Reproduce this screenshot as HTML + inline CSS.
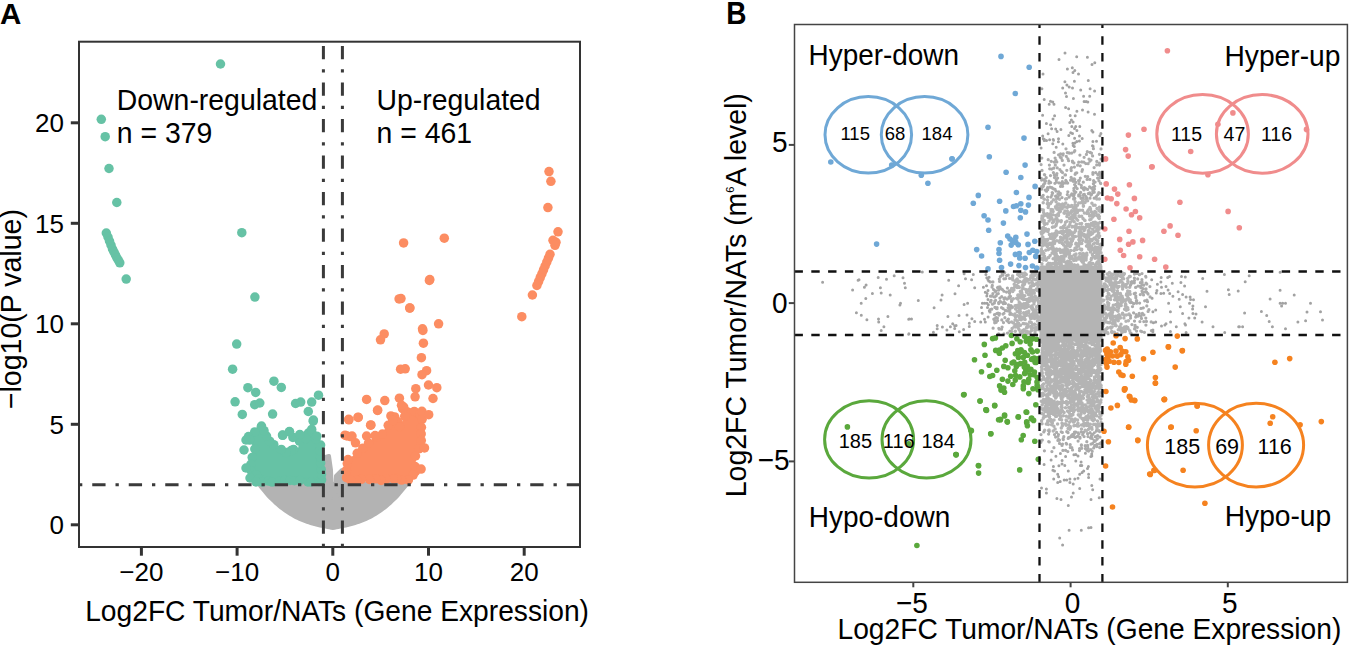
<!DOCTYPE html><html><head><meta charset="utf-8"><style>html,body{margin:0;padding:0;background:#fff;}svg{display:block;}</style></head><body>
<svg width="1349" height="646" viewBox="0 0 1349 646" font-family='"Liberation Sans", sans-serif'>
<rect width="1349" height="646" fill="#fff"/>
<text transform="translate(0.1,24.1) scale(1,1.03)" font-size="29.5" font-weight="bold">A</text>
<polygon points="256.0,482.0 257.4,485.5 259.3,488.0 261.2,490.3 263.1,492.6 264.9,494.8 266.8,496.9 268.7,498.9 270.6,500.8 272.5,502.6 274.4,504.4 276.3,506.1 278.2,507.7 280.0,509.2 281.9,510.6 283.8,512.0 285.7,513.3 287.6,514.5 289.5,515.7 291.4,516.8 293.3,517.9 295.1,518.9 297.0,519.8 298.9,520.7 300.8,521.5 302.7,522.3 304.6,523.0 306.5,523.7 308.4,524.3 310.2,524.9 312.1,525.5 314.0,526.0 315.9,526.5 317.8,527.0 319.7,527.4 321.6,527.8 323.5,528.2 325.3,528.6 327.2,529.0 329.1,529.3 331.0,529.7 332.9,530.0 334.8,529.7 336.7,529.3 338.6,529.0 340.4,528.6 342.3,528.2 344.2,527.8 346.1,527.4 348.0,527.0 349.9,526.5 351.8,526.0 353.7,525.5 355.5,524.9 357.4,524.3 359.3,523.7 361.2,523.0 363.1,522.3 365.0,521.5 366.9,520.7 368.8,519.8 370.6,518.9 372.5,517.9 374.4,516.8 376.3,515.7 378.2,514.5 380.1,513.3 382.0,512.0 383.9,510.6 385.8,509.2 387.6,507.7 389.5,506.1 391.4,504.4 393.3,502.6 395.2,500.8 397.1,498.9 399.0,496.9 400.8,494.8 402.7,492.6 404.6,490.3 406.5,488.0 408.4,485.5 410.0,482.0" fill="#b3b3b3"/>
<polygon points="322,458 329,456 331,470 332,498 326,496 321,480" fill="#b3b3b3" stroke="#b3b3b3" stroke-width="4" stroke-linejoin="round"/>
<polygon points="336,476 342,470 345,474 345,490 334,498" fill="#b3b3b3" stroke="#b3b3b3" stroke-width="4" stroke-linejoin="round"/>
<g fill="#66c2a5"><polygon points="261.5,426.0 248.7,434.5 247.9,439.6 254.7,448.1 250.4,460.0 249.6,469.4 257.2,478.8 259.8,482.2 322.0,482.2 322.5,460.0 320.5,441.3 315.1,436.2 311.7,430.2 304.9,436.2 299.8,439.6 298.1,448.1 287.9,453.2 281.1,451.5 276.8,446.4 270.9,443.0 264.1,432.8"/><circle cx="261.3" cy="427.4" r="4.75"/><circle cx="254.7" cy="431.9" r="4.75"/><circle cx="248.5" cy="436.5" r="4.75"/><circle cx="249.6" cy="440.1" r="4.75"/><circle cx="254.8" cy="449.0" r="4.75"/><circle cx="252.2" cy="457.4" r="4.75"/><circle cx="250.9" cy="464.3" r="4.75"/><circle cx="251.3" cy="471.0" r="4.75"/><circle cx="256.1" cy="474.7" r="4.75"/><circle cx="258.9" cy="478.7" r="4.75"/><circle cx="262.1" cy="482.1" r="4.75"/><circle cx="268.5" cy="481.1" r="4.75"/><circle cx="272.1" cy="482.1" r="4.75"/><circle cx="279.7" cy="481.3" r="4.75"/><circle cx="284.7" cy="480.5" r="4.75"/><circle cx="290.0" cy="480.4" r="4.75"/><circle cx="294.4" cy="480.7" r="4.75"/><circle cx="299.9" cy="480.6" r="4.75"/><circle cx="307.9" cy="482.0" r="4.75"/><circle cx="310.9" cy="481.9" r="4.75"/><circle cx="319.0" cy="481.6" r="4.75"/><circle cx="321.6" cy="479.8" r="4.75"/><circle cx="321.5" cy="474.6" r="4.75"/><circle cx="321.2" cy="469.4" r="4.75"/><circle cx="320.7" cy="463.0" r="4.75"/><circle cx="320.4" cy="457.1" r="4.75"/><circle cx="319.5" cy="450.5" r="4.75"/><circle cx="320.6" cy="445.1" r="4.75"/><circle cx="315.9" cy="439.2" r="4.75"/><circle cx="312.2" cy="433.5" r="4.75"/><circle cx="308.4" cy="433.0" r="4.75"/><circle cx="301.3" cy="438.4" r="4.75"/><circle cx="299.4" cy="441.1" r="4.75"/><circle cx="293.5" cy="449.4" r="4.75"/><circle cx="291.1" cy="450.6" r="4.75"/><circle cx="286.0" cy="452.6" r="4.75"/><circle cx="281.3" cy="449.4" r="4.75"/><circle cx="273.8" cy="444.7" r="4.75"/><circle cx="269.7" cy="441.2" r="4.75"/><circle cx="266.5" cy="436.1" r="4.75"/><circle cx="264.0" cy="430.7" r="4.75"/></g>
<circle cx="220.5" cy="64.0" r="4.75" fill="#66c2a5"/>
<circle cx="101.3" cy="119.3" r="4.75" fill="#66c2a5"/>
<circle cx="105.2" cy="136.7" r="4.75" fill="#66c2a5"/>
<circle cx="109.0" cy="168.5" r="4.75" fill="#66c2a5"/>
<circle cx="116.8" cy="202.5" r="4.75" fill="#66c2a5"/>
<circle cx="241.8" cy="232.7" r="4.75" fill="#66c2a5"/>
<circle cx="126.2" cy="279.1" r="4.75" fill="#66c2a5"/>
<circle cx="106.3" cy="233.0" r="4.75" fill="#66c2a5"/>
<circle cx="108.0" cy="237.0" r="4.75" fill="#66c2a5"/>
<circle cx="109.5" cy="241.0" r="4.75" fill="#66c2a5"/>
<circle cx="111.0" cy="245.0" r="4.75" fill="#66c2a5"/>
<circle cx="112.5" cy="249.0" r="4.75" fill="#66c2a5"/>
<circle cx="114.0" cy="252.0" r="4.75" fill="#66c2a5"/>
<circle cx="115.5" cy="255.0" r="4.75" fill="#66c2a5"/>
<circle cx="117.0" cy="258.0" r="4.75" fill="#66c2a5"/>
<circle cx="118.5" cy="260.5" r="4.75" fill="#66c2a5"/>
<circle cx="119.8" cy="262.8" r="4.75" fill="#66c2a5"/>
<circle cx="254.9" cy="297.1" r="4.75" fill="#66c2a5"/>
<circle cx="236.7" cy="344.1" r="4.75" fill="#66c2a5"/>
<circle cx="232.6" cy="369.2" r="4.75" fill="#66c2a5"/>
<circle cx="273.9" cy="381.2" r="4.75" fill="#66c2a5"/>
<circle cx="281.3" cy="387.4" r="4.75" fill="#66c2a5"/>
<circle cx="247.9" cy="387.7" r="4.75" fill="#66c2a5"/>
<circle cx="255.7" cy="392.4" r="4.75" fill="#66c2a5"/>
<circle cx="318.5" cy="395.2" r="4.75" fill="#66c2a5"/>
<circle cx="235.1" cy="401.8" r="4.75" fill="#66c2a5"/>
<circle cx="254.7" cy="404.7" r="4.75" fill="#66c2a5"/>
<circle cx="259.8" cy="403.0" r="4.75" fill="#66c2a5"/>
<circle cx="242.3" cy="414.4" r="4.75" fill="#66c2a5"/>
<circle cx="272.6" cy="414.1" r="4.75" fill="#66c2a5"/>
<circle cx="295.6" cy="403.5" r="4.75" fill="#66c2a5"/>
<circle cx="300.7" cy="402.1" r="4.75" fill="#66c2a5"/>
<circle cx="311.7" cy="402.1" r="4.75" fill="#66c2a5"/>
<circle cx="308.3" cy="411.5" r="4.75" fill="#66c2a5"/>
<circle cx="313.4" cy="420.0" r="4.75" fill="#66c2a5"/>
<circle cx="261.5" cy="426.0" r="4.75" fill="#66c2a5"/>
<circle cx="282.5" cy="435.1" r="4.75" fill="#66c2a5"/>
<circle cx="289.4" cy="431.6" r="4.75" fill="#66c2a5"/>
<circle cx="292.9" cy="437.4" r="4.75" fill="#66c2a5"/>
<circle cx="299.9" cy="435.1" r="4.75" fill="#66c2a5"/>
<circle cx="305.7" cy="438.6" r="4.75" fill="#66c2a5"/>
<circle cx="313.2" cy="421.2" r="4.75" fill="#66c2a5"/>
<circle cx="311.7" cy="429.4" r="4.75" fill="#66c2a5"/>
<circle cx="282.8" cy="435.3" r="4.75" fill="#66c2a5"/>
<circle cx="289.6" cy="432.0" r="4.75" fill="#66c2a5"/>
<circle cx="299.8" cy="434.5" r="4.75" fill="#66c2a5"/>
<circle cx="316.8" cy="436.2" r="4.75" fill="#66c2a5"/>
<circle cx="246.0" cy="440.0" r="4.75" fill="#66c2a5"/>
<circle cx="244.0" cy="450.0" r="4.75" fill="#66c2a5"/>
<circle cx="246.0" cy="468.0" r="4.75" fill="#66c2a5"/>
<circle cx="250.0" cy="478.0" r="4.75" fill="#66c2a5"/>
<circle cx="256.0" cy="482.0" r="4.75" fill="#66c2a5"/>
<g fill="#fc8d62"><polygon points="345.5,481.0 344.5,468.0 347.0,460.0 358.5,452.0 366.0,445.0 373.0,438.0 382.0,434.0 387.0,425.0 389.0,417.0 393.0,414.0 400.0,425.0 405.0,416.7 402.5,404.5 412.4,409.0 420.6,413.0 424.5,416.0 422.5,421.3 421.5,432.1 421.5,439.9 420.5,447.6 416.5,456.9 415.0,466.2 417.5,470.0 411.0,480.0"/><circle cx="346.5" cy="477.7" r="4.75"/><circle cx="346.3" cy="470.4" r="4.75"/><circle cx="347.3" cy="463.6" r="4.75"/><circle cx="348.0" cy="459.6" r="4.75"/><circle cx="357.2" cy="453.3" r="4.75"/><circle cx="362.8" cy="448.2" r="4.75"/><circle cx="368.5" cy="443.0" r="4.75"/><circle cx="377.1" cy="436.8" r="4.75"/><circle cx="382.4" cy="434.1" r="4.75"/><circle cx="388.2" cy="425.3" r="4.75"/><circle cx="390.9" cy="415.9" r="4.75"/><circle cx="394.7" cy="416.9" r="4.75"/><circle cx="397.8" cy="421.8" r="4.75"/><circle cx="399.5" cy="426.7" r="4.75"/><circle cx="404.7" cy="416.3" r="4.75"/><circle cx="402.6" cy="408.7" r="4.75"/><circle cx="403.7" cy="407.1" r="4.75"/><circle cx="414.3" cy="411.4" r="4.75"/><circle cx="419.8" cy="414.7" r="4.75"/><circle cx="422.1" cy="419.3" r="4.75"/><circle cx="421.4" cy="427.3" r="4.75"/><circle cx="421.2" cy="433.9" r="4.75"/><circle cx="421.3" cy="440.6" r="4.75"/><circle cx="418.7" cy="448.8" r="4.75"/><circle cx="415.5" cy="456.0" r="4.75"/><circle cx="415.1" cy="466.5" r="4.75"/><circle cx="415.4" cy="471.6" r="4.75"/><circle cx="413.2" cy="475.1" r="4.75"/><circle cx="408.4" cy="479.9" r="4.75"/><circle cx="401.6" cy="480.1" r="4.75"/><circle cx="396.4" cy="478.5" r="4.75"/><circle cx="393.2" cy="478.7" r="4.75"/><circle cx="386.1" cy="479.3" r="4.75"/><circle cx="381.2" cy="480.4" r="4.75"/><circle cx="375.5" cy="478.8" r="4.75"/><circle cx="369.4" cy="479.4" r="4.75"/><circle cx="361.3" cy="479.3" r="4.75"/><circle cx="356.7" cy="480.3" r="4.75"/><circle cx="350.7" cy="479.9" r="4.75"/></g>
<circle cx="549.0" cy="171.6" r="4.75" fill="#fc8d62"/>
<circle cx="550.9" cy="181.3" r="4.75" fill="#fc8d62"/>
<circle cx="547.9" cy="207.6" r="4.75" fill="#fc8d62"/>
<circle cx="558.0" cy="231.8" r="4.75" fill="#fc8d62"/>
<circle cx="553.0" cy="240.3" r="4.75" fill="#fc8d62"/>
<circle cx="556.0" cy="242.3" r="4.75" fill="#fc8d62"/>
<circle cx="555.0" cy="245.3" r="4.75" fill="#fc8d62"/>
<circle cx="550.0" cy="254.3" r="4.75" fill="#fc8d62"/>
<circle cx="548.4" cy="258.2" r="4.75" fill="#fc8d62"/>
<circle cx="546.8" cy="262.1" r="4.75" fill="#fc8d62"/>
<circle cx="545.1" cy="266.0" r="4.75" fill="#fc8d62"/>
<circle cx="543.5" cy="269.9" r="4.75" fill="#fc8d62"/>
<circle cx="541.9" cy="273.8" r="4.75" fill="#fc8d62"/>
<circle cx="540.2" cy="277.7" r="4.75" fill="#fc8d62"/>
<circle cx="538.6" cy="281.6" r="4.75" fill="#fc8d62"/>
<circle cx="536.9" cy="285.5" r="4.75" fill="#fc8d62"/>
<circle cx="532.4" cy="295.0" r="4.75" fill="#fc8d62"/>
<circle cx="521.8" cy="316.7" r="4.75" fill="#fc8d62"/>
<circle cx="444.3" cy="238.2" r="4.75" fill="#fc8d62"/>
<circle cx="403.6" cy="242.9" r="4.75" fill="#fc8d62"/>
<circle cx="429.8" cy="279.5" r="4.75" fill="#fc8d62"/>
<circle cx="401.0" cy="298.6" r="4.75" fill="#fc8d62"/>
<circle cx="409.7" cy="308.1" r="4.75" fill="#fc8d62"/>
<circle cx="438.6" cy="323.8" r="4.75" fill="#fc8d62"/>
<circle cx="422.5" cy="328.8" r="4.75" fill="#fc8d62"/>
<circle cx="429.4" cy="280.4" r="4.75" fill="#fc8d62"/>
<circle cx="399.1" cy="298.9" r="4.75" fill="#fc8d62"/>
<circle cx="409.9" cy="307.9" r="4.75" fill="#fc8d62"/>
<circle cx="422.9" cy="330.5" r="4.75" fill="#fc8d62"/>
<circle cx="384.2" cy="333.9" r="4.75" fill="#fc8d62"/>
<circle cx="380.5" cy="339.8" r="4.75" fill="#fc8d62"/>
<circle cx="423.4" cy="343.2" r="4.75" fill="#fc8d62"/>
<circle cx="421.4" cy="357.7" r="4.75" fill="#fc8d62"/>
<circle cx="400.6" cy="369.2" r="4.75" fill="#fc8d62"/>
<circle cx="405.2" cy="368.8" r="4.75" fill="#fc8d62"/>
<circle cx="426.6" cy="370.7" r="4.75" fill="#fc8d62"/>
<circle cx="422.0" cy="374.7" r="4.75" fill="#fc8d62"/>
<circle cx="428.5" cy="385.0" r="4.75" fill="#fc8d62"/>
<circle cx="436.8" cy="387.7" r="4.75" fill="#fc8d62"/>
<circle cx="415.8" cy="388.7" r="4.75" fill="#fc8d62"/>
<circle cx="366.6" cy="399.4" r="4.75" fill="#fc8d62"/>
<circle cx="384.8" cy="400.6" r="4.75" fill="#fc8d62"/>
<circle cx="399.4" cy="398.2" r="4.75" fill="#fc8d62"/>
<circle cx="415.1" cy="396.8" r="4.75" fill="#fc8d62"/>
<circle cx="433.0" cy="398.5" r="4.75" fill="#fc8d62"/>
<circle cx="377.7" cy="410.1" r="4.75" fill="#fc8d62"/>
<circle cx="348.7" cy="419.3" r="4.75" fill="#fc8d62"/>
<circle cx="358.1" cy="417.2" r="4.75" fill="#fc8d62"/>
<circle cx="370.9" cy="424.9" r="4.75" fill="#fc8d62"/>
<circle cx="393.0" cy="420.6" r="4.75" fill="#fc8d62"/>
<circle cx="401.5" cy="405.3" r="4.75" fill="#fc8d62"/>
<circle cx="421.9" cy="411.3" r="4.75" fill="#fc8d62"/>
<circle cx="428.7" cy="414.7" r="4.75" fill="#fc8d62"/>
<circle cx="347.0" cy="436.0" r="4.75" fill="#fc8d62"/>
<circle cx="351.3" cy="436.8" r="4.75" fill="#fc8d62"/>
<circle cx="355.5" cy="442.8" r="4.75" fill="#fc8d62"/>
<circle cx="366.6" cy="436.0" r="4.75" fill="#fc8d62"/>
<circle cx="375.1" cy="435.6" r="4.75" fill="#fc8d62"/>
<circle cx="345.0" cy="435.2" r="4.75" fill="#fc8d62"/>
<circle cx="352.0" cy="436.0" r="4.75" fill="#fc8d62"/>
<circle cx="370.6" cy="425.2" r="4.75" fill="#fc8d62"/>
<circle cx="377.5" cy="410.5" r="4.75" fill="#fc8d62"/>
<circle cx="348.9" cy="419.8" r="4.75" fill="#fc8d62"/>
<circle cx="358.2" cy="417.4" r="4.75" fill="#fc8d62"/>
<circle cx="393.0" cy="420.5" r="4.75" fill="#fc8d62"/>
<circle cx="421.1" cy="469.1" r="4.75" fill="#fc8d62"/>
<circle cx="424.5" cy="447.9" r="4.75" fill="#fc8d62"/>
<line x1="79" y1="484.7" x2="580" y2="484.7" stroke="#3a3a3a" stroke-width="3" stroke-dasharray="3.3 9.95 13.3 9.95"/>
<line x1="323.4" y1="547" x2="323.4" y2="41.7" stroke="#3a3a3a" stroke-width="3" stroke-dasharray="3.3 9.95 13.3 9.95"/>
<line x1="342.4" y1="547" x2="342.4" y2="41.7" stroke="#3a3a3a" stroke-width="3" stroke-dasharray="3.3 9.95 13.3 9.95"/>
<rect x="79" y="41.7" width="501" height="505.3" fill="none" stroke="#333" stroke-width="2"/>
<line x1="70.8" y1="524.8" x2="79" y2="524.8" stroke="#333" stroke-width="3"/>
<text x="64" y="534.1" font-size="26" text-anchor="end">0</text>
<line x1="70.8" y1="424.3" x2="79" y2="424.3" stroke="#333" stroke-width="3"/>
<text x="64" y="433.6" font-size="26" text-anchor="end">5</text>
<line x1="70.8" y1="323.8" x2="79" y2="323.8" stroke="#333" stroke-width="3"/>
<text x="64" y="333.1" font-size="26" text-anchor="end">10</text>
<line x1="70.8" y1="223.3" x2="79" y2="223.3" stroke="#333" stroke-width="3"/>
<text x="64" y="232.6" font-size="26" text-anchor="end">15</text>
<line x1="70.8" y1="122.8" x2="79" y2="122.8" stroke="#333" stroke-width="3"/>
<text x="64" y="132.1" font-size="26" text-anchor="end">20</text>
<line x1="141.4" y1="547" x2="141.4" y2="555.7" stroke="#333" stroke-width="3"/>
<text x="141.4" y="580.5" font-size="26" text-anchor="middle">−20</text>
<line x1="237.1" y1="547" x2="237.1" y2="555.7" stroke="#333" stroke-width="3"/>
<text x="237.1" y="580.5" font-size="26" text-anchor="middle">−10</text>
<line x1="332.8" y1="547" x2="332.8" y2="555.7" stroke="#333" stroke-width="3"/>
<text x="332.8" y="580.5" font-size="26" text-anchor="middle">0</text>
<line x1="428.5" y1="547" x2="428.5" y2="555.7" stroke="#333" stroke-width="3"/>
<text x="428.5" y="580.5" font-size="26" text-anchor="middle">10</text>
<line x1="524.2" y1="547" x2="524.2" y2="555.7" stroke="#333" stroke-width="3"/>
<text x="524.2" y="580.5" font-size="26" text-anchor="middle">20</text>
<text transform="translate(85.2,620.5) scale(1,1.04)" font-size="28.2">Log2FC Tumor/NATs (Gene Expression)</text>
<text transform="translate(20.5,409.2) rotate(-90) scale(1,1.04)" font-size="28.55">−log10(P value)</text>
<text transform="translate(116.8,109.7) scale(1,1.04)" font-size="28.4">Down-regulated</text>
<text transform="translate(116.8,143) scale(1,1.04)" font-size="28.4">n = 379</text>
<text transform="translate(376.5,109.7) scale(1,1.04)" font-size="28.4">Up-regulated</text>
<text transform="translate(376.5,143) scale(1,1.04)" font-size="28.4">n = 461</text>
<text transform="translate(726.3,24) scale(0.95,1.05)" font-size="29.5" font-weight="bold">B</text>
<g><rect x="1039.5" y="265.5" width="62.90000000000009" height="75.5" fill="#b4b4b4"/><path d="M1066.4 271.4h0M1048.2 270.7h0M1078.6 271.3h0M1075.6 270.6h0M1099.7 271.1h0M1092.6 271.5h0M1049.5 271.2h0M1059.4 271.4h0M1051.7 270.7h0M1079.3 270.9h0M1093.6 270.0h0M1058.1 269.8h0M1047.9 269.5h0M1086.5 270.1h0M1070.3 270.3h0M1081.1 270.5h0M1075.4 269.7h0M1059.7 269.6h0M1076.6 269.8h0M1068.3 269.9h0M1097.8 269.7h0M1080.9 270.0h0M1083.1 270.4h0M1100.7 269.9h0M1064.4 269.3h0M1045.6 268.6h0M1073.9 269.1h0M1090.2 268.6h0M1057.6 268.6h0M1062.4 269.1h0M1098.6 268.6h0M1051.4 269.3h0M1054.8 269.3h0M1076.3 269.0h0M1047.0 268.1h0M1044.5 267.9h0M1053.4 268.4h0M1061.3 268.3h0M1040.8 268.4h0M1046.9 268.3h0M1042.3 268.1h0M1077.8 267.6h0M1056.0 268.4h0M1062.7 268.2h0M1092.0 268.4h0M1068.9 267.5h0M1045.9 268.0h0M1061.4 268.4h0M1090.8 268.2h0M1087.4 267.3h0M1087.8 267.0h0M1054.2 267.2h0M1100.2 266.7h0M1089.4 266.6h0M1085.4 266.7h0M1072.0 267.3h0M1042.5 267.1h0M1057.6 267.5h0M1082.6 267.2h0M1067.8 266.5h0M1100.4 266.6h0M1060.8 265.7h0M1099.4 265.7h0M1065.0 266.1h0M1084.5 265.6h0M1048.4 266.3h0M1095.4 266.3h0M1049.6 265.7h0M1100.0 265.7h0M1061.9 265.8h0M1048.7 266.0h0M1099.4 266.5h0M1072.6 265.9h0M1067.0 265.6h0M1090.6 265.6h0M1056.0 266.3h0M1055.3 266.2h0M1056.4 265.9h0M1048.7 266.1h0M1051.2 264.7h0M1084.6 265.0h0M1060.4 264.9h0M1074.3 265.0h0M1047.2 264.7h0M1055.8 264.9h0M1087.4 265.2h0M1074.7 265.0h0M1095.9 264.7h0M1077.7 265.1h0M1071.7 265.0h0M1068.1 264.8h0M1069.6 265.0h0M1084.0 264.3h0M1049.4 263.8h0M1099.2 263.6h0M1098.3 264.3h0M1070.2 264.1h0M1091.0 263.5h0M1066.8 264.3h0M1061.2 264.0h0M1060.0 264.3h0M1041.9 263.8h0M1067.4 263.9h0M1060.8 264.5h0M1071.7 263.9h0M1100.2 264.4h0M1099.4 263.7h0M1056.8 264.4h0M1066.4 262.8h0M1097.4 263.4h0M1089.2 262.9h0M1092.5 263.4h0M1092.9 263.4h0M1061.2 263.0h0M1096.7 262.9h0M1048.6 263.2h0M1055.2 263.0h0M1050.5 263.4h0M1052.9 263.4h0M1059.2 263.2h0M1058.3 262.7h0M1097.2 262.0h0M1090.2 262.4h0M1070.6 262.1h0M1064.5 261.7h0M1082.3 262.0h0M1061.4 261.5h0M1083.4 261.7h0M1065.2 261.9h0M1081.3 260.6h0M1055.4 261.2h0M1068.5 261.2h0M1067.7 261.3h0M1098.8 261.2h0M1073.8 260.5h0M1099.1 261.3h0M1062.3 261.2h0M1046.2 260.2h0M1043.3 260.1h0M1059.1 260.5h0M1076.1 260.3h0M1086.1 260.0h0M1084.0 259.8h0M1042.6 259.3h0M1062.5 259.4h0M1091.2 259.4h0M1078.7 258.9h0M1081.9 258.9h0M1041.0 259.0h0M1085.9 258.7h0M1073.1 259.0h0M1044.7 258.8h0M1056.0 258.8h0M1056.8 259.4h0M1053.1 258.8h0M1099.7 258.8h0M1063.9 259.0h0M1082.0 259.0h0M1078.0 258.7h0M1045.4 258.9h0M1056.1 259.4h0M1059.1 258.8h0M1041.5 258.9h0M1057.0 259.4h0M1082.6 258.8h0M1097.9 258.3h0M1075.9 258.3h0M1072.4 258.4h0M1048.8 257.5h0M1071.5 257.7h0M1083.2 257.6h0M1095.0 258.3h0M1042.2 258.0h0M1070.4 258.5h0M1059.0 258.0h0M1061.5 258.4h0M1091.5 258.2h0M1086.1 258.5h0M1048.0 257.7h0M1083.8 257.6h0M1071.6 257.2h0M1063.3 257.3h0M1094.2 256.5h0M1078.9 256.7h0M1097.6 256.6h0M1084.2 257.0h0M1085.0 257.5h0M1086.2 257.0h0M1058.0 256.9h0M1096.7 257.5h0M1069.3 257.4h0M1058.7 257.2h0M1099.7 256.8h0M1080.4 257.2h0M1061.4 256.4h0M1055.2 256.4h0M1075.2 256.2h0M1086.0 255.6h0M1065.7 256.1h0M1063.5 256.0h0M1044.5 256.2h0M1099.2 256.2h0M1071.2 256.4h0M1092.9 255.9h0M1057.1 256.3h0M1064.9 256.3h0M1098.4 256.1h0M1096.7 255.1h0M1092.4 254.7h0M1055.8 254.5h0M1050.1 255.4h0M1081.9 255.0h0M1084.3 254.6h0M1086.9 254.9h0M1074.1 255.0h0M1076.0 254.0h0M1054.3 254.1h0M1041.4 253.9h0M1068.6 254.2h0M1079.7 253.5h0M1069.5 253.6h0M1055.7 254.3h0M1083.3 253.5h0M1042.1 254.2h0M1081.5 254.0h0M1056.3 254.1h0M1086.7 253.3h0M1098.2 253.2h0M1052.1 253.0h0M1065.9 253.3h0M1098.1 252.8h0M1064.5 253.4h0M1099.6 253.3h0M1043.9 253.4h0M1064.5 253.4h0M1094.1 252.6h0M1101.0 252.8h0M1060.6 252.6h0M1097.3 253.3h0M1042.7 252.8h0M1063.6 252.8h0M1053.3 251.5h0M1090.4 252.1h0M1066.9 251.7h0M1069.3 252.5h0M1096.3 252.1h0M1062.8 252.3h0M1042.6 251.6h0M1098.6 251.2h0M1056.6 250.9h0M1059.9 250.8h0M1041.0 251.2h0M1096.1 250.7h0M1097.7 250.9h0M1054.9 251.5h0M1098.5 251.0h0M1064.1 250.5h0M1066.7 251.2h0M1074.1 250.5h0M1100.0 250.2h0M1100.4 249.6h0M1045.8 250.2h0M1070.9 250.4h0M1067.7 249.8h0M1065.9 250.3h0M1081.5 249.9h0M1091.9 249.8h0M1048.1 249.8h0M1058.5 249.7h0M1063.3 249.9h0M1052.8 249.8h0M1055.6 250.3h0M1094.2 250.3h0M1060.5 249.9h0M1099.5 249.3h0M1096.9 248.9h0M1093.1 249.1h0M1056.5 249.1h0M1097.9 248.7h0M1076.8 249.4h0M1053.9 248.9h0M1049.3 249.1h0M1056.1 249.3h0M1080.1 248.9h0M1041.4 249.3h0M1081.7 249.2h0M1059.6 249.3h0M1088.8 249.3h0M1098.3 248.2h0M1075.0 248.2h0M1065.9 248.1h0M1100.9 247.6h0M1052.7 248.1h0M1053.1 247.8h0M1095.2 248.5h0M1090.3 248.1h0M1094.1 248.1h0M1050.6 248.0h0M1047.3 246.6h0M1089.4 247.0h0M1052.7 246.5h0M1097.7 247.4h0M1069.9 246.5h0M1096.7 247.4h0M1095.4 247.1h0M1090.6 246.9h0M1088.2 247.3h0M1065.2 247.3h0M1086.5 245.9h0M1091.4 246.5h0M1077.0 246.4h0M1078.6 245.9h0M1066.1 246.2h0M1066.5 245.9h0M1067.7 245.8h0M1042.2 246.1h0M1070.3 245.9h0M1086.9 246.3h0M1068.4 245.7h0M1045.7 244.9h0M1087.7 244.8h0M1044.0 245.0h0M1063.6 245.0h0M1049.0 244.5h0M1100.9 244.6h0M1090.0 244.8h0M1100.0 245.3h0M1053.3 243.6h0M1071.3 244.2h0M1043.0 244.2h0M1050.5 244.3h0M1081.8 243.6h0M1050.9 243.6h0M1047.7 243.7h0M1079.2 244.0h0M1093.5 244.1h0M1075.8 243.9h0M1047.1 243.6h0M1078.8 243.5h0M1088.9 244.1h0M1100.6 244.2h0M1049.8 243.5h0M1066.9 242.9h0M1094.8 243.0h0M1054.5 243.4h0M1042.1 242.8h0M1062.2 243.5h0M1062.3 243.4h0M1076.0 243.3h0M1053.1 242.9h0M1069.4 242.9h0M1097.3 243.4h0M1049.8 243.3h0M1079.3 243.4h0M1088.0 242.6h0M1065.3 242.0h0M1044.3 242.3h0M1041.5 241.7h0M1097.6 241.9h0M1052.8 242.4h0M1071.4 241.9h0M1089.9 241.9h0M1059.4 242.3h0M1043.7 242.2h0M1088.0 241.6h0M1041.1 241.8h0M1085.8 241.7h0M1056.8 240.8h0M1067.1 240.9h0M1072.4 240.7h0M1079.5 241.2h0M1053.9 240.5h0M1041.7 240.6h0M1055.0 241.2h0M1097.8 240.8h0M1060.5 240.8h0M1060.6 240.6h0M1047.2 240.5h0M1061.6 239.6h0M1042.5 240.4h0M1082.6 240.5h0M1082.8 239.9h0M1044.7 239.8h0M1062.7 239.9h0M1090.3 239.7h0M1044.7 239.6h0M1096.0 239.6h0M1047.2 239.6h0M1047.5 240.3h0M1092.0 240.5h0M1079.1 239.7h0M1078.9 239.7h0M1046.8 240.2h0M1086.5 240.4h0M1060.0 240.3h0M1067.1 239.1h0M1061.7 238.7h0M1073.2 238.8h0M1092.8 239.3h0M1090.3 239.4h0M1040.8 239.3h0M1086.8 239.3h0M1041.0 238.5h0M1070.4 239.0h0M1051.9 238.7h0M1061.7 239.0h0M1065.0 238.1h0M1094.5 238.1h0M1094.4 238.4h0M1053.2 238.5h0M1095.2 238.2h0M1063.7 238.0h0M1054.9 237.6h0M1072.9 238.0h0M1086.2 237.7h0M1061.8 237.9h0M1050.1 238.2h0M1080.7 237.7h0M1051.0 237.8h0M1060.5 237.3h0M1050.5 237.0h0M1052.2 237.2h0M1084.8 236.5h0M1098.9 237.4h0M1064.0 237.4h0M1088.8 236.5h0M1067.0 236.8h0M1079.3 237.3h0M1053.2 237.4h0M1042.8 237.1h0M1088.5 237.1h0M1068.2 235.9h0M1078.7 236.2h0M1066.1 236.4h0M1083.8 235.7h0M1055.9 235.9h0M1068.2 236.1h0M1065.5 235.9h0M1096.9 235.8h0M1080.3 236.3h0M1064.2 235.7h0M1099.6 236.0h0M1073.6 236.5h0M1088.0 236.3h0M1072.1 235.6h0M1075.5 236.4h0M1084.1 236.0h0M1079.4 236.0h0M1072.3 235.7h0M1098.0 236.1h0M1066.0 235.5h0M1082.9 235.1h0M1056.8 235.1h0M1085.5 235.3h0M1072.6 234.6h0M1089.2 235.3h0M1053.6 235.1h0M1087.7 235.4h0M1079.1 234.7h0M1056.1 234.1h0M1052.0 234.1h0M1084.3 234.5h0M1055.5 234.2h0M1069.7 234.2h0M1079.2 234.1h0M1062.6 233.8h0M1092.4 233.6h0M1090.8 234.4h0M1088.1 233.6h0M1091.0 234.4h0M1041.7 233.9h0M1098.2 234.5h0M1055.9 233.8h0M1049.4 234.4h0M1067.2 232.8h0M1074.3 232.6h0M1054.9 233.2h0M1070.5 233.4h0M1069.0 233.4h0M1070.4 233.4h0M1073.3 233.0h0M1041.1 232.6h0M1069.0 232.7h0M1080.9 232.9h0M1063.4 232.7h0M1098.8 233.1h0M1079.2 233.4h0M1042.5 232.9h0M1082.0 232.9h0M1060.7 232.6h0M1066.3 232.1h0M1090.7 231.9h0M1090.7 232.2h0M1071.2 232.1h0M1071.3 232.2h0M1080.3 231.5h0M1060.7 231.7h0M1058.8 232.2h0M1079.1 231.9h0M1043.2 231.7h0M1094.2 231.8h0M1043.8 232.0h0M1041.1 232.2h0M1043.0 231.3h0M1096.0 230.7h0M1063.0 230.8h0M1088.3 230.7h0M1056.3 230.9h0M1066.2 231.2h0M1066.8 231.2h0M1097.2 230.9h0M1075.0 231.4h0M1047.9 231.5h0M1075.5 230.7h0M1067.7 230.6h0M1064.1 231.5h0M1097.4 230.9h0M1069.5 230.5h0M1046.9 231.1h0M1048.1 229.8h0M1046.1 229.5h0M1048.5 229.6h0M1084.2 230.5h0M1097.1 229.0h0M1099.0 229.2h0M1041.4 228.8h0M1080.1 229.5h0M1045.6 228.7h0M1084.8 229.2h0M1092.8 229.3h0M1044.4 229.0h0M1075.5 229.1h0M1081.6 229.1h0M1083.2 227.5h0M1060.8 227.7h0M1099.8 227.9h0M1077.1 227.7h0M1066.6 228.2h0M1063.5 227.6h0M1077.1 227.8h0M1089.5 227.6h0M1040.9 228.2h0M1066.3 228.2h0M1090.0 227.9h0M1043.3 227.6h0M1081.7 226.9h0M1053.2 227.0h0M1086.1 227.2h0M1068.5 226.7h0M1089.5 227.4h0M1054.8 226.7h0M1094.9 226.9h0M1072.3 226.6h0M1076.3 227.0h0M1052.4 227.3h0M1083.1 227.3h0M1074.8 227.1h0M1072.0 227.1h0M1043.4 227.4h0M1063.3 226.5h0M1079.0 227.4h0M1093.1 225.5h0M1075.0 226.0h0M1087.8 226.2h0M1097.9 226.1h0M1090.2 225.7h0M1056.1 225.5h0M1093.3 224.9h0M1098.0 225.0h0M1044.6 224.6h0M1064.8 224.9h0M1056.2 224.5h0M1095.3 224.1h0M1091.3 223.6h0M1088.2 224.5h0M1079.8 223.8h0M1044.1 223.5h0M1086.3 224.4h0M1081.6 223.6h0M1076.5 224.2h0M1047.1 223.7h0M1056.3 224.2h0M1069.8 224.4h0M1052.5 222.8h0M1096.8 223.5h0M1097.2 223.3h0M1094.4 222.6h0M1044.2 222.3h0M1074.2 221.8h0M1093.3 222.4h0M1065.6 222.2h0M1057.1 222.3h0M1061.0 221.7h0M1070.4 222.3h0M1095.3 222.2h0M1099.9 222.4h0M1094.8 222.4h0M1053.5 221.8h0M1044.2 220.6h0M1058.5 220.8h0M1041.7 220.5h0M1061.3 220.7h0M1040.9 221.4h0M1072.6 220.7h0M1067.0 221.3h0M1053.9 220.6h0M1049.1 220.9h0M1057.3 220.0h0M1077.7 220.3h0M1089.8 219.8h0M1053.0 219.9h0M1085.0 220.4h0M1084.3 220.1h0M1069.5 218.6h0M1056.8 218.6h0M1091.0 219.3h0M1050.6 219.1h0M1076.7 219.1h0M1072.1 219.5h0M1098.4 217.6h0M1071.8 218.0h0M1073.2 218.0h0M1099.2 218.5h0M1051.8 218.3h0M1055.9 218.4h0M1042.6 217.7h0M1083.0 218.4h0M1041.8 218.3h0M1075.6 217.9h0M1071.0 217.0h0M1048.1 217.2h0M1049.0 217.1h0M1092.8 216.9h0M1075.3 217.4h0M1050.7 216.8h0M1090.0 215.6h0M1044.0 215.7h0M1098.6 216.0h0M1055.8 215.6h0M1079.0 216.1h0M1072.8 216.1h0M1066.9 216.4h0M1042.0 216.0h0M1099.3 216.4h0M1097.3 215.7h0M1089.6 215.9h0M1094.2 215.6h0M1079.5 216.5h0M1081.7 216.2h0M1098.5 214.9h0M1057.0 215.0h0M1073.0 215.0h0M1048.2 215.4h0M1058.5 215.4h0M1058.2 215.1h0M1046.1 215.3h0M1091.5 215.0h0M1075.2 214.9h0M1052.9 214.8h0M1068.6 214.8h0M1092.8 214.1h0M1074.4 214.3h0M1058.0 214.0h0M1058.6 213.5h0M1050.3 213.7h0M1093.4 214.4h0M1044.5 214.1h0M1067.3 214.1h0M1047.3 213.8h0M1088.2 213.0h0M1096.0 212.8h0M1093.3 213.4h0M1087.0 213.5h0M1070.8 212.9h0M1075.3 212.5h0M1088.1 213.1h0M1077.4 212.6h0M1068.1 213.1h0M1084.4 213.0h0M1064.3 213.2h0M1064.0 212.9h0M1088.3 213.2h0M1060.3 211.6h0M1091.4 211.7h0M1053.1 211.5h0M1095.7 212.1h0M1043.6 212.5h0M1070.8 211.9h0M1087.5 211.6h0M1101.0 212.0h0M1065.0 211.1h0M1075.4 210.9h0M1099.0 210.6h0M1067.3 211.0h0M1100.9 210.9h0M1072.8 211.2h0M1051.1 210.7h0M1099.8 211.2h0M1071.7 210.7h0M1094.8 211.4h0M1077.2 209.9h0M1100.8 210.1h0M1043.3 209.9h0M1088.3 210.1h0M1082.5 210.2h0M1059.1 210.5h0M1076.2 209.7h0M1052.6 209.8h0M1074.2 210.0h0M1079.8 210.2h0M1051.1 209.4h0M1090.5 209.0h0M1089.5 208.9h0M1041.5 209.4h0M1060.2 208.7h0M1062.1 208.8h0M1056.9 209.3h0M1075.9 207.6h0M1067.3 207.5h0M1055.8 207.9h0M1097.0 208.5h0M1059.8 207.6h0M1090.0 207.6h0M1070.0 206.6h0M1055.5 206.7h0M1062.4 207.3h0M1099.4 207.3h0M1074.7 207.2h0M1073.0 207.4h0M1065.1 207.1h0M1048.2 207.4h0M1062.0 206.7h0M1061.4 205.8h0M1083.4 206.3h0M1057.0 206.4h0M1048.5 205.7h0M1068.1 205.3h0M1083.4 205.4h0M1095.1 205.2h0M1063.0 204.9h0M1077.5 205.3h0M1093.4 205.3h0M1071.7 205.4h0M1057.1 205.0h0M1064.0 204.7h0M1075.0 204.8h0M1047.3 203.8h0M1062.6 203.9h0M1058.7 204.0h0M1059.6 204.4h0M1048.4 204.3h0M1080.8 202.8h0M1065.7 203.1h0M1083.0 202.8h0M1091.9 203.3h0M1078.7 203.1h0M1047.7 203.3h0M1085.1 202.6h0M1043.2 202.8h0M1050.5 203.5h0M1051.6 201.9h0M1075.2 201.7h0M1056.1 201.8h0M1082.1 202.1h0M1087.6 200.7h0M1047.5 200.3h0M1053.4 199.7h0M1086.0 199.6h0M1082.7 200.4h0M1044.0 199.0h0M1066.6 198.8h0M1096.8 199.0h0M1086.8 199.4h0M1083.2 199.5h0M1056.5 198.7h0M1099.3 199.0h0M1073.6 198.9h0M1044.3 199.3h0M1065.6 199.1h0M1059.5 199.3h0M1041.0 335.8h0M1041.7 335.5h0M1089.8 335.1h0M1077.3 335.4h0M1061.0 335.5h0M1062.1 335.2h0M1078.2 335.8h0M1046.1 335.3h0M1083.1 335.3h0M1080.7 335.4h0M1048.0 335.8h0M1043.3 335.7h0M1051.9 335.8h0M1098.6 335.3h0M1054.3 335.4h0M1077.6 335.9h0M1064.6 335.9h0M1098.5 335.5h0M1100.5 335.5h0M1090.9 335.2h0M1072.6 335.2h0M1051.3 335.0h0M1068.2 335.9h0M1055.9 335.8h0M1046.8 335.4h0M1092.8 335.6h0M1063.5 335.5h0M1094.7 335.9h0M1045.3 335.7h0M1067.6 335.6h0M1062.6 336.0h0M1078.9 335.7h0M1072.3 335.4h0M1095.5 335.7h0M1062.7 335.5h0M1044.2 336.0h0M1082.0 335.8h0M1067.8 335.6h0M1094.6 335.8h0M1086.0 335.7h0M1060.4 335.0h0M1098.3 335.1h0M1049.5 335.9h0M1075.6 335.6h0M1063.9 336.3h0M1098.9 337.0h0M1059.4 336.2h0M1052.7 336.9h0M1067.2 336.3h0M1056.5 336.1h0M1064.0 336.4h0M1056.9 337.0h0M1095.6 336.2h0M1091.3 336.5h0M1087.8 336.6h0M1049.9 336.3h0M1069.2 336.8h0M1081.3 336.6h0M1057.4 336.8h0M1096.2 336.4h0M1058.2 336.5h0M1056.4 336.6h0M1043.2 336.8h0M1075.0 336.8h0M1097.5 336.4h0M1055.4 336.3h0M1073.9 336.1h0M1081.7 336.8h0M1089.5 336.4h0M1059.3 336.1h0M1099.2 336.6h0M1082.5 336.6h0M1064.6 336.8h0M1085.6 336.9h0M1057.4 337.6h0M1077.2 337.1h0M1057.2 337.8h0M1054.3 337.2h0M1081.6 337.1h0M1089.2 338.0h0M1083.0 337.4h0M1091.4 337.1h0M1041.0 337.3h0M1049.1 337.6h0M1044.3 337.3h0M1074.3 337.4h0M1043.1 337.8h0M1047.4 337.8h0M1078.8 337.2h0M1060.7 337.3h0M1053.9 337.6h0M1053.4 337.8h0M1089.6 337.8h0M1042.6 337.5h0M1042.5 337.8h0M1066.4 337.5h0M1078.8 337.1h0M1076.1 337.7h0M1071.7 337.4h0M1054.4 337.6h0M1100.9 337.9h0M1098.8 337.8h0M1100.3 337.3h0M1069.6 337.1h0M1068.2 337.1h0M1083.5 337.7h0M1061.4 337.5h0M1065.1 337.2h0M1052.5 337.3h0M1071.9 337.7h0M1062.2 338.2h0M1089.3 338.9h0M1046.9 338.5h0M1050.0 338.1h0M1069.2 338.8h0M1095.8 339.0h0M1069.5 338.8h0M1048.5 338.8h0M1074.8 338.1h0M1053.4 338.5h0M1042.0 338.3h0M1083.6 338.9h0M1100.0 338.9h0M1085.0 338.4h0M1089.8 338.4h0M1048.8 338.8h0M1053.7 338.0h0M1063.6 338.6h0M1090.9 338.0h0M1068.8 338.8h0M1094.4 338.0h0M1045.0 338.5h0M1078.5 338.3h0M1070.0 338.9h0M1053.2 338.6h0M1055.2 339.1h0M1054.6 340.0h0M1088.3 339.4h0M1079.0 339.8h0M1043.1 339.7h0M1099.7 339.1h0M1043.0 339.8h0M1055.3 339.0h0M1054.0 339.9h0M1096.9 339.7h0M1096.3 339.6h0M1050.0 339.3h0M1086.5 339.0h0M1099.5 339.1h0M1052.0 339.7h0M1050.6 339.8h0M1047.1 339.5h0M1094.5 339.8h0M1040.9 339.9h0M1074.3 339.9h0M1071.1 339.8h0M1076.7 339.6h0M1045.4 339.8h0M1073.7 339.1h0M1064.7 339.3h0M1086.8 340.3h0M1077.4 340.1h0M1087.2 341.0h0M1045.3 340.0h0M1082.6 340.1h0M1072.2 340.6h0M1065.4 340.5h0M1079.9 340.6h0M1085.0 340.9h0M1095.9 340.8h0M1084.0 340.8h0M1081.9 340.0h0M1066.8 340.8h0M1051.6 340.9h0M1067.4 340.9h0M1056.0 340.7h0M1061.8 340.3h0M1046.5 340.3h0M1100.0 340.4h0M1058.1 341.2h0M1041.6 341.9h0M1084.0 341.3h0M1051.4 342.0h0M1082.2 341.4h0M1085.8 341.7h0M1055.8 341.8h0M1042.4 341.3h0M1053.4 341.7h0M1099.0 341.3h0M1076.5 341.6h0M1076.9 341.7h0M1059.1 341.7h0M1044.8 341.1h0M1062.6 341.0h0M1047.6 341.1h0M1099.3 341.5h0M1057.3 341.7h0M1051.5 341.8h0M1059.1 341.1h0M1082.4 341.4h0M1084.7 341.4h0M1097.1 341.1h0M1091.0 341.3h0M1090.8 341.0h0M1092.4 341.2h0M1081.3 341.8h0M1041.3 341.3h0M1095.4 341.2h0M1080.6 341.2h0M1080.7 341.6h0M1049.4 341.2h0M1100.1 341.1h0M1080.1 341.4h0M1054.2 341.6h0M1064.0 342.2h0M1079.5 342.4h0M1093.3 342.5h0M1080.8 342.1h0M1054.9 342.8h0M1067.2 342.0h0M1068.5 342.1h0M1046.4 342.7h0M1069.7 342.1h0M1054.7 342.2h0M1047.9 342.4h0M1062.6 342.1h0M1097.3 342.5h0M1045.1 342.6h0M1085.7 342.2h0M1093.3 342.6h0M1092.6 343.0h0M1097.7 342.1h0M1055.2 342.5h0M1071.8 343.7h0M1069.2 343.0h0M1073.2 343.7h0M1070.9 343.2h0M1080.1 343.6h0M1089.3 343.1h0M1085.5 343.9h0M1063.0 343.9h0M1051.7 343.9h0M1076.9 343.2h0M1045.7 343.9h0M1042.9 343.2h0M1049.2 343.4h0M1086.0 343.2h0M1097.5 343.6h0M1081.8 343.4h0M1098.0 343.0h0M1069.6 343.2h0M1056.3 344.6h0M1074.7 344.5h0M1049.1 344.7h0M1048.0 344.2h0M1049.8 345.0h0M1072.3 344.1h0M1094.3 344.6h0M1054.9 344.1h0M1076.1 344.2h0M1065.4 344.5h0M1080.7 344.9h0M1098.5 344.9h0M1097.6 344.3h0M1043.9 344.4h0M1047.0 344.9h0M1058.2 344.0h0M1099.2 344.3h0M1066.1 344.9h0M1092.0 344.5h0M1080.2 344.8h0M1081.7 345.5h0M1079.9 345.7h0M1098.6 345.2h0M1054.8 345.8h0M1098.6 345.4h0M1065.5 345.2h0M1095.1 346.0h0M1085.2 345.2h0M1080.8 345.4h0M1048.5 345.8h0M1053.7 345.2h0M1042.9 345.3h0M1065.3 345.1h0M1045.4 345.4h0M1097.7 345.6h0M1062.2 345.6h0M1067.2 345.7h0M1069.8 345.2h0M1081.6 345.0h0M1063.1 345.2h0M1087.1 346.0h0M1079.5 345.8h0M1083.3 345.6h0M1052.6 346.0h0M1058.9 345.8h0M1056.8 346.2h0M1100.4 346.7h0M1047.6 346.0h0M1099.3 346.9h0M1061.0 346.1h0M1060.1 346.5h0M1069.7 346.4h0M1044.1 346.3h0M1050.6 346.1h0M1078.4 346.1h0M1056.6 346.7h0M1084.8 346.8h0M1070.5 346.3h0M1096.9 346.2h0M1043.8 346.6h0M1073.0 347.4h0M1042.6 347.7h0M1054.1 347.7h0M1079.4 347.3h0M1077.9 347.7h0M1053.1 347.9h0M1080.8 347.3h0M1050.3 347.3h0M1087.3 347.2h0M1084.0 347.8h0M1088.7 348.0h0M1059.8 347.3h0M1044.1 347.7h0M1046.1 347.6h0M1071.8 347.0h0M1097.0 347.2h0M1068.6 347.9h0M1048.0 347.2h0M1072.2 347.5h0M1084.0 347.4h0M1087.6 347.5h0M1045.0 347.1h0M1070.0 347.4h0M1067.2 348.8h0M1064.5 348.1h0M1098.9 348.1h0M1058.1 348.1h0M1048.9 348.8h0M1045.0 348.1h0M1072.9 348.2h0M1051.0 348.8h0M1087.0 348.2h0M1061.2 348.4h0M1055.4 348.1h0M1047.8 349.0h0M1085.5 348.3h0M1095.4 348.9h0M1098.5 348.5h0M1058.2 348.6h0M1084.0 348.5h0M1048.6 348.7h0M1098.6 348.2h0M1089.9 348.1h0M1055.7 348.3h0M1069.1 348.3h0M1049.7 349.0h0M1060.2 348.9h0M1086.4 349.9h0M1096.3 349.2h0M1100.6 349.8h0M1086.3 349.7h0M1056.0 349.8h0M1063.7 349.7h0M1048.8 349.8h0M1061.1 349.5h0M1061.6 349.8h0M1092.0 349.8h0M1049.2 349.9h0M1085.7 349.9h0M1080.2 349.7h0M1093.3 349.0h0M1068.3 349.5h0M1088.0 349.3h0M1093.3 349.8h0M1061.3 349.2h0M1046.8 349.2h0M1042.3 349.3h0M1054.5 349.8h0M1044.8 349.1h0M1052.7 349.7h0M1065.0 349.5h0M1098.4 349.8h0M1090.3 350.5h0M1062.3 350.8h0M1085.7 350.2h0M1054.0 350.8h0M1100.7 350.9h0M1063.7 350.4h0M1096.9 350.7h0M1059.0 350.2h0M1085.0 350.3h0M1073.8 350.2h0M1081.1 350.5h0M1098.5 350.1h0M1074.6 351.0h0M1051.8 350.8h0M1074.1 350.9h0M1093.2 350.8h0M1096.6 350.4h0M1042.2 350.2h0M1095.0 350.5h0M1098.4 350.9h0M1097.1 350.5h0M1049.4 350.6h0M1089.3 350.6h0M1077.1 350.4h0M1057.4 350.3h0M1071.7 350.4h0M1046.3 350.5h0M1061.3 350.0h0M1086.0 350.7h0M1061.0 352.0h0M1055.6 351.8h0M1050.5 351.2h0M1078.1 351.4h0M1050.5 351.3h0M1045.9 351.2h0M1059.8 351.2h0M1051.8 351.5h0M1067.3 351.5h0M1070.1 352.0h0M1069.2 351.9h0M1076.5 351.2h0M1051.0 351.1h0M1083.1 351.1h0M1065.1 352.0h0M1066.4 351.4h0M1082.5 351.4h0M1050.0 351.4h0M1075.3 351.9h0M1092.1 351.0h0M1062.2 351.7h0M1096.3 351.6h0M1066.9 351.4h0M1074.2 351.3h0M1088.2 352.6h0M1063.1 352.3h0M1062.7 352.4h0M1073.3 352.9h0M1060.8 352.3h0M1050.4 352.8h0M1042.1 352.7h0M1044.3 352.2h0M1049.6 352.8h0M1044.2 352.2h0M1085.0 352.3h0M1095.7 352.7h0M1074.0 352.9h0M1046.2 352.9h0M1067.0 352.9h0M1085.9 352.2h0M1064.0 352.9h0M1093.5 352.1h0M1076.8 352.8h0M1043.1 353.0h0M1048.3 352.1h0M1083.5 352.0h0M1047.5 352.6h0M1051.7 352.2h0M1081.4 352.6h0M1062.5 353.0h0M1067.0 353.0h0M1056.1 352.4h0M1099.6 352.2h0M1082.5 353.4h0M1089.2 353.0h0M1071.8 353.8h0M1089.0 353.0h0M1081.2 353.4h0M1084.7 353.6h0M1098.7 353.4h0M1096.9 354.0h0M1059.9 353.6h0M1057.0 353.4h0M1088.6 353.9h0M1090.4 353.8h0M1082.3 354.0h0M1086.5 353.3h0M1077.6 353.3h0M1092.6 353.2h0M1057.4 353.5h0M1045.8 353.9h0M1086.5 353.9h0M1086.7 353.1h0M1095.5 353.6h0M1066.6 353.6h0M1046.0 353.9h0M1047.0 353.8h0M1044.0 354.7h0M1073.4 355.0h0M1048.7 354.7h0M1063.5 354.6h0M1090.0 354.2h0M1069.6 354.0h0M1092.2 354.1h0M1042.8 354.9h0M1069.1 354.5h0M1084.8 354.7h0M1097.1 354.3h0M1049.0 354.2h0M1048.0 354.8h0M1071.0 354.2h0M1050.6 354.3h0M1069.4 354.9h0M1055.9 354.8h0M1054.1 354.9h0M1077.8 354.9h0M1087.3 355.0h0M1072.9 354.6h0M1067.5 354.9h0M1095.9 354.1h0M1081.9 354.8h0M1054.8 354.7h0M1090.5 354.5h0M1096.5 355.0h0M1082.1 354.2h0M1065.2 354.6h0M1078.8 355.3h0M1098.0 355.6h0M1062.6 355.7h0M1079.0 355.9h0M1092.8 355.5h0M1062.5 355.7h0M1058.9 355.6h0M1055.5 356.0h0M1044.6 356.0h0M1074.2 355.0h0M1071.4 355.2h0M1091.3 355.1h0M1082.1 355.7h0M1100.7 355.9h0M1083.8 355.7h0M1043.7 355.0h0M1099.3 355.4h0M1075.1 355.3h0M1065.9 355.0h0M1076.4 355.9h0M1041.5 355.8h0M1051.6 355.2h0M1050.3 356.1h0M1076.3 356.1h0M1050.4 356.8h0M1075.4 356.5h0M1065.7 356.6h0M1041.7 356.5h0M1066.3 356.1h0M1086.5 356.2h0M1090.5 356.2h0M1046.3 356.2h0M1064.2 356.5h0M1087.0 356.3h0M1081.2 356.2h0M1068.1 356.8h0M1096.5 356.5h0M1051.7 356.6h0M1045.7 356.1h0M1046.1 356.3h0M1066.3 356.6h0M1071.7 356.3h0M1055.5 356.9h0M1059.2 356.2h0M1095.7 356.3h0M1066.7 356.7h0M1043.5 356.2h0M1091.9 356.1h0M1050.2 356.6h0M1044.3 356.6h0M1061.0 356.5h0M1081.3 357.3h0M1065.0 357.2h0M1066.8 357.7h0M1045.0 357.2h0M1100.6 357.5h0M1046.8 357.9h0M1070.3 357.5h0M1081.2 357.2h0M1089.6 357.5h0M1097.2 357.3h0M1069.4 357.8h0M1070.0 357.1h0M1082.2 357.1h0M1075.7 357.7h0M1043.5 358.0h0M1089.1 357.7h0M1060.2 357.1h0M1041.0 358.7h0M1062.1 358.0h0M1100.9 358.9h0M1095.6 358.3h0M1093.0 358.8h0M1099.3 358.6h0M1098.0 358.6h0M1052.6 358.6h0M1069.9 358.5h0M1063.3 358.3h0M1076.3 358.5h0M1057.5 358.2h0M1071.2 358.5h0M1080.9 358.4h0M1072.9 358.2h0M1087.3 358.3h0M1087.9 358.7h0M1055.8 358.5h0M1071.6 358.9h0M1072.4 360.0h0M1099.1 359.7h0M1054.6 359.8h0M1047.3 359.3h0M1085.3 359.8h0M1063.1 359.5h0M1070.2 359.3h0M1094.8 359.7h0M1093.2 359.8h0M1066.2 359.4h0M1099.6 359.3h0M1050.3 359.2h0M1096.4 359.3h0M1060.8 359.9h0M1094.6 359.9h0M1052.4 359.4h0M1063.4 359.8h0M1095.3 359.1h0M1064.8 359.4h0M1056.2 359.6h0M1064.3 359.0h0M1041.4 359.4h0M1086.7 359.4h0M1081.8 359.3h0M1065.9 360.3h0M1095.2 360.4h0M1100.3 360.1h0M1092.5 360.2h0M1076.2 360.2h0M1043.0 360.4h0M1089.7 360.8h0M1087.6 360.3h0M1100.4 360.5h0M1063.7 360.1h0M1078.5 360.2h0M1091.6 360.8h0M1064.1 360.5h0M1047.1 360.8h0M1086.2 360.3h0M1100.7 360.4h0M1068.6 360.1h0M1040.9 360.2h0M1046.2 360.1h0M1091.8 361.3h0M1066.0 361.3h0M1062.5 362.0h0M1050.5 361.4h0M1080.9 361.7h0M1065.3 361.4h0M1088.5 361.2h0M1091.0 361.5h0M1085.1 361.4h0M1054.0 361.0h0M1082.0 362.0h0M1070.8 361.7h0M1052.7 361.5h0M1079.7 361.2h0M1056.4 361.7h0M1049.0 361.6h0M1051.1 361.6h0M1059.7 361.5h0M1048.8 361.6h0M1078.0 361.5h0M1059.4 361.1h0M1073.7 361.7h0M1087.9 361.6h0M1054.2 361.6h0M1090.9 361.4h0M1042.3 362.3h0M1044.7 362.3h0M1078.4 362.1h0M1050.4 362.1h0M1057.6 362.3h0M1095.4 362.9h0M1100.5 362.9h0M1088.8 362.4h0M1096.7 362.3h0M1085.0 362.8h0M1046.3 362.2h0M1074.1 362.9h0M1092.8 362.6h0M1083.0 362.1h0M1088.2 362.5h0M1052.6 362.5h0M1057.7 363.0h0M1091.0 362.7h0M1082.7 362.2h0M1054.3 362.4h0M1098.4 362.2h0M1071.5 362.4h0M1042.4 362.5h0M1085.8 362.8h0M1062.3 362.9h0M1061.7 362.2h0M1056.1 363.8h0M1074.1 363.8h0M1078.6 363.6h0M1087.7 363.1h0M1092.9 363.3h0M1081.7 363.8h0M1067.1 363.8h0M1098.3 363.7h0M1046.8 363.2h0M1071.5 363.4h0M1054.1 363.1h0M1064.2 363.9h0M1051.8 363.1h0M1052.2 363.6h0M1073.2 363.5h0M1071.2 363.4h0M1041.8 363.8h0M1052.8 363.9h0M1087.1 363.0h0M1073.2 363.6h0M1087.9 363.2h0M1070.3 364.1h0M1058.9 364.3h0M1063.2 364.5h0M1084.4 364.8h0M1054.2 364.1h0M1060.6 364.0h0M1082.9 364.1h0M1100.9 364.8h0M1043.0 364.2h0M1065.6 364.8h0M1064.5 364.9h0M1045.1 364.3h0M1071.7 364.9h0M1067.2 364.4h0M1090.9 364.8h0M1051.5 364.5h0M1094.6 364.4h0M1080.7 364.4h0M1068.6 364.6h0M1060.4 365.4h0M1061.1 365.6h0M1081.2 365.1h0M1088.5 365.3h0M1073.7 365.3h0M1047.7 365.8h0M1044.9 365.7h0M1042.3 365.9h0M1063.0 365.7h0M1064.6 365.2h0M1065.8 365.5h0M1072.3 365.1h0M1099.2 365.3h0M1067.0 365.4h0M1099.3 365.2h0M1079.8 365.3h0M1064.5 365.8h0M1057.6 365.8h0M1043.3 365.1h0M1093.5 365.4h0M1067.4 365.2h0M1048.4 366.4h0M1041.7 366.5h0M1054.2 366.2h0M1046.2 366.1h0M1072.0 366.2h0M1090.3 366.1h0M1056.0 366.4h0M1091.5 366.2h0M1085.6 366.0h0M1097.8 366.1h0M1076.8 366.4h0M1046.8 366.9h0M1082.6 366.1h0M1084.3 366.6h0M1070.8 366.3h0M1067.2 366.2h0M1076.1 366.3h0M1057.3 366.3h0M1045.9 366.6h0M1070.7 366.8h0M1047.7 366.2h0M1069.5 367.1h0M1082.3 367.6h0M1052.3 367.0h0M1064.4 368.0h0M1063.4 367.4h0M1085.5 367.7h0M1065.1 367.7h0M1071.9 367.6h0M1098.1 367.2h0M1087.7 368.0h0M1068.9 368.0h0M1055.3 367.8h0M1083.9 367.7h0M1091.1 367.9h0M1056.9 367.9h0M1069.5 367.8h0M1063.0 367.3h0M1091.7 367.8h0M1081.2 367.8h0M1050.2 367.2h0M1053.6 367.6h0M1046.9 367.3h0M1084.1 367.2h0M1092.0 367.2h0M1092.0 367.3h0M1056.9 367.3h0M1041.5 367.4h0M1063.7 367.4h0M1075.9 368.7h0M1055.6 368.5h0M1099.3 368.3h0M1100.5 368.4h0M1048.3 368.9h0M1042.0 368.8h0M1089.6 368.7h0M1074.0 368.7h0M1089.6 369.6h0M1082.0 369.2h0M1048.5 369.9h0M1070.5 369.1h0M1098.1 369.3h0M1067.7 370.0h0M1078.9 369.8h0M1099.4 369.2h0M1045.3 369.2h0M1041.8 369.5h0M1065.6 369.5h0M1065.7 370.0h0M1087.8 369.8h0M1055.1 369.6h0M1070.4 369.3h0M1079.7 369.4h0M1060.3 369.5h0M1100.9 369.6h0M1061.0 369.2h0M1046.4 369.0h0M1066.3 369.1h0M1082.9 369.8h0M1091.3 370.0h0M1075.8 369.6h0M1063.9 369.0h0M1078.2 369.3h0M1073.5 369.1h0M1070.5 369.4h0M1046.9 369.4h0M1084.6 370.6h0M1078.4 371.0h0M1079.1 370.5h0M1083.3 370.5h0M1041.6 370.9h0M1093.7 370.3h0M1088.5 370.1h0M1079.9 370.0h0M1055.1 370.8h0M1054.4 370.4h0M1072.7 370.7h0M1060.4 370.6h0M1098.4 370.6h0M1098.2 370.8h0M1071.9 370.2h0M1061.7 370.4h0M1051.3 370.8h0M1087.5 370.6h0M1041.9 370.9h0M1070.5 370.3h0M1050.6 370.9h0M1064.7 370.8h0M1096.8 370.5h0M1060.7 370.1h0M1048.8 370.2h0M1083.1 370.3h0M1048.1 370.6h0M1071.4 370.8h0M1090.3 370.1h0M1092.7 371.1h0M1055.4 371.9h0M1081.4 371.7h0M1087.8 371.1h0M1059.3 371.8h0M1057.8 371.1h0M1068.9 371.8h0M1050.4 371.8h0M1061.8 371.1h0M1050.5 371.9h0M1086.2 371.1h0M1081.1 371.1h0M1055.7 371.1h0M1093.5 371.7h0M1067.9 371.4h0M1061.3 371.0h0M1088.4 371.2h0M1088.1 371.7h0M1083.0 371.5h0M1064.0 371.1h0M1057.8 371.3h0M1053.7 371.7h0M1057.8 371.3h0M1079.3 371.9h0M1069.0 372.4h0M1095.5 372.9h0M1069.6 372.9h0M1049.1 373.0h0M1079.4 372.9h0M1065.7 372.9h0M1042.3 373.0h0M1090.2 372.8h0M1090.8 372.4h0M1086.2 372.2h0M1065.6 372.5h0M1089.1 372.2h0M1046.1 372.7h0M1054.1 373.0h0M1065.8 372.4h0M1094.5 372.6h0M1079.0 372.9h0M1047.2 372.4h0M1072.1 372.1h0M1067.8 372.6h0M1065.7 373.0h0M1066.0 372.4h0M1097.5 372.2h0M1073.5 372.6h0M1055.9 372.4h0M1070.6 372.3h0M1099.9 372.4h0M1074.2 373.1h0M1054.3 373.7h0M1070.2 373.0h0M1085.2 373.0h0M1057.6 373.6h0M1054.8 373.4h0M1051.7 373.2h0M1068.1 373.8h0M1061.7 373.7h0M1076.7 373.8h0M1064.5 373.7h0M1052.3 373.6h0M1081.3 374.0h0M1079.3 373.5h0M1061.0 373.1h0M1091.7 373.2h0M1067.6 373.0h0M1088.0 373.9h0M1059.0 373.7h0M1087.3 374.0h0M1069.2 374.2h0M1056.4 374.0h0M1086.9 374.7h0M1067.5 374.6h0M1081.2 374.7h0M1073.1 374.2h0M1084.8 374.6h0M1059.5 374.2h0M1046.5 374.3h0M1084.8 374.3h0M1051.2 374.6h0M1047.8 374.7h0M1049.7 374.8h0M1056.0 374.1h0M1057.1 374.5h0M1097.4 374.9h0M1086.0 374.3h0M1074.6 374.7h0M1098.1 374.3h0M1041.5 375.0h0M1060.1 374.3h0M1075.7 375.3h0M1059.2 375.4h0M1087.5 375.5h0M1061.5 375.7h0M1088.5 375.9h0M1069.5 375.6h0M1048.9 375.3h0M1077.5 375.9h0M1096.7 375.1h0M1042.8 375.9h0M1055.1 375.7h0M1091.1 375.5h0M1070.8 375.4h0M1087.0 376.2h0M1097.1 376.5h0M1064.8 376.3h0M1061.5 377.0h0M1094.6 377.0h0M1073.7 376.2h0M1047.8 376.9h0M1087.5 376.8h0M1077.0 376.7h0M1098.6 376.1h0M1088.1 376.1h0M1059.9 376.7h0M1065.5 376.7h0M1043.4 376.8h0M1064.0 376.9h0M1069.2 376.8h0M1058.9 376.8h0M1057.1 377.9h0M1049.0 377.0h0M1085.4 378.0h0M1049.6 377.2h0M1080.9 377.9h0M1048.7 377.6h0M1097.9 377.4h0M1066.1 377.0h0M1101.0 377.1h0M1098.4 377.1h0M1084.9 377.8h0M1082.8 377.0h0M1070.4 377.5h0M1071.7 377.1h0M1048.7 377.8h0M1066.1 377.9h0M1055.2 377.3h0M1079.9 377.5h0M1094.5 377.6h0M1071.7 377.5h0M1061.5 378.2h0M1089.3 378.8h0M1047.9 379.0h0M1047.2 378.2h0M1085.8 378.7h0M1087.8 378.6h0M1074.7 378.5h0M1079.9 378.9h0M1076.3 378.7h0M1086.5 378.5h0M1048.5 378.6h0M1066.2 378.4h0M1074.6 378.4h0M1064.4 378.4h0M1063.2 378.4h0M1046.2 379.0h0M1084.3 378.0h0M1067.9 378.4h0M1062.9 378.6h0M1100.3 379.6h0M1068.5 379.7h0M1044.4 379.1h0M1044.9 379.7h0M1081.0 379.8h0M1094.6 379.5h0M1078.0 379.9h0M1076.3 379.1h0M1055.8 379.4h0M1084.9 379.9h0M1054.6 379.1h0M1075.4 379.3h0M1067.3 379.3h0M1051.7 379.8h0M1060.7 379.7h0M1098.2 379.9h0M1077.4 379.3h0M1065.5 379.1h0M1079.3 379.6h0M1042.8 379.3h0M1064.6 380.3h0M1065.1 380.8h0M1064.7 380.5h0M1095.3 380.8h0M1096.4 380.4h0M1099.8 380.3h0M1081.9 380.5h0M1057.2 380.4h0M1094.2 380.1h0M1082.9 380.4h0M1072.6 380.5h0M1051.4 380.2h0M1081.9 380.3h0M1040.9 380.5h0M1066.9 380.7h0M1056.4 380.1h0M1090.5 380.2h0M1060.5 380.6h0M1056.2 382.0h0M1047.8 381.8h0M1062.3 381.7h0M1058.7 381.9h0M1052.8 381.1h0M1099.9 381.8h0M1081.9 381.6h0M1057.2 381.3h0M1100.2 381.1h0M1077.7 381.0h0M1052.0 381.3h0M1097.0 381.4h0M1050.7 381.2h0M1080.4 381.6h0M1051.6 381.5h0M1047.4 381.9h0M1055.4 381.2h0M1069.5 381.5h0M1084.7 381.6h0M1069.0 381.9h0M1090.9 381.0h0M1065.1 382.2h0M1064.0 382.1h0M1074.1 382.6h0M1089.1 382.4h0M1060.7 382.1h0M1093.0 382.9h0M1087.0 382.9h0M1088.3 382.5h0M1047.9 382.6h0M1046.6 382.3h0M1060.2 382.9h0M1073.3 382.4h0M1083.4 382.1h0M1088.8 382.8h0M1059.9 382.9h0M1086.7 382.1h0M1072.7 383.8h0M1073.3 383.6h0M1074.4 383.4h0M1096.3 383.1h0M1049.1 383.1h0M1079.5 383.7h0M1082.6 383.8h0M1043.9 383.9h0M1055.1 383.0h0M1050.0 383.8h0M1087.3 383.5h0M1072.6 383.2h0M1085.9 383.9h0M1069.7 383.4h0M1098.8 383.3h0M1081.8 383.8h0M1085.0 383.3h0M1089.0 383.5h0M1094.0 383.4h0M1068.0 383.7h0M1089.4 383.6h0M1098.7 383.5h0M1094.9 383.0h0M1070.3 383.7h0M1049.7 383.8h0M1083.9 383.3h0M1098.5 385.0h0M1090.6 384.7h0M1048.2 384.1h0M1048.4 384.3h0M1100.3 384.4h0M1098.7 384.8h0M1054.1 384.2h0M1057.3 384.0h0M1072.6 384.1h0M1081.4 384.3h0M1076.8 384.6h0M1085.1 384.3h0M1083.9 384.7h0M1068.8 384.5h0M1043.2 384.3h0M1078.0 384.5h0M1092.7 384.2h0M1092.3 384.9h0M1099.1 385.2h0M1090.6 385.6h0M1073.5 385.1h0M1100.2 385.7h0M1047.0 385.9h0M1101.1 385.4h0M1098.5 385.5h0M1042.3 385.3h0M1056.7 385.9h0M1062.5 385.6h0M1097.2 385.6h0M1093.7 385.9h0M1090.3 385.3h0M1065.9 385.0h0M1056.1 385.9h0M1075.9 385.4h0M1052.8 386.8h0M1042.2 386.9h0M1075.5 386.5h0M1096.4 386.1h0M1051.9 386.4h0M1076.5 386.4h0M1040.9 386.4h0M1083.8 386.1h0M1056.2 386.1h0M1092.8 386.8h0M1051.3 386.9h0M1086.3 386.0h0M1062.8 386.6h0M1066.8 386.0h0M1076.3 386.2h0M1053.4 387.0h0M1082.7 386.1h0M1054.2 386.1h0M1100.3 386.4h0M1059.8 386.3h0M1050.6 386.5h0M1083.0 386.4h0M1088.9 386.3h0M1046.9 386.2h0M1101.1 387.7h0M1097.5 387.4h0M1080.1 387.4h0M1053.0 387.9h0M1100.2 387.3h0M1059.2 387.1h0M1085.7 387.5h0M1096.9 387.6h0M1040.8 387.7h0M1043.0 387.1h0M1042.4 387.4h0M1079.0 387.5h0M1092.5 387.2h0M1098.7 387.4h0M1078.2 387.4h0M1056.6 387.5h0M1041.0 387.8h0M1060.1 387.2h0M1071.0 387.9h0M1058.8 387.0h0M1089.6 387.6h0M1087.8 387.1h0M1072.4 387.4h0M1067.2 387.4h0M1096.3 388.0h0M1095.3 389.0h0M1041.0 388.8h0M1047.5 388.4h0M1089.6 388.7h0M1088.6 388.8h0M1041.6 388.1h0M1091.6 388.1h0M1071.9 388.8h0M1092.5 388.2h0M1060.4 388.1h0M1100.1 388.0h0M1087.3 388.4h0M1075.8 388.8h0M1087.5 389.0h0M1098.9 388.9h0M1065.4 389.6h0M1045.4 389.6h0M1059.6 389.1h0M1043.7 389.1h0M1084.9 389.7h0M1053.2 389.6h0M1090.6 389.7h0M1054.5 389.6h0M1064.6 389.6h0M1049.7 389.3h0M1078.9 389.9h0M1051.1 389.9h0M1071.5 389.3h0M1059.0 389.1h0M1069.8 389.5h0M1075.6 389.9h0M1076.1 389.6h0M1062.9 389.8h0M1100.0 389.0h0M1048.4 389.8h0M1054.2 389.1h0M1055.5 390.3h0M1065.8 390.3h0M1060.3 390.4h0M1091.3 390.0h0M1070.5 390.7h0M1054.8 390.0h0M1068.4 390.9h0M1090.3 390.2h0M1051.1 391.8h0M1052.8 391.3h0M1090.2 391.9h0M1063.8 391.8h0M1056.5 391.9h0M1081.4 391.6h0M1063.8 391.2h0M1088.9 391.1h0M1049.0 391.2h0M1079.4 391.3h0M1072.4 391.6h0M1086.2 391.9h0M1073.0 391.2h0M1055.4 391.2h0M1045.4 391.1h0M1094.3 391.4h0M1097.9 392.3h0M1066.3 392.4h0M1091.5 392.5h0M1087.2 393.0h0M1084.0 392.5h0M1098.7 392.6h0M1086.7 393.0h0M1075.1 392.2h0M1054.7 392.4h0M1054.1 392.8h0M1070.3 392.7h0M1083.4 392.4h0M1100.5 392.7h0M1061.8 393.4h0M1072.8 393.5h0M1048.8 393.4h0M1074.5 393.0h0M1057.7 394.0h0M1060.0 393.4h0M1070.5 393.7h0M1041.1 393.8h0M1053.2 393.1h0M1064.9 393.4h0M1099.1 393.4h0M1075.5 393.4h0M1079.5 394.0h0M1090.8 393.6h0M1042.9 393.3h0M1065.8 394.1h0M1083.8 394.8h0M1047.8 394.8h0M1062.3 394.9h0M1069.2 394.8h0M1069.6 394.9h0M1049.9 394.3h0M1043.8 394.5h0M1093.6 394.2h0M1092.9 394.6h0M1069.8 394.2h0M1047.3 394.5h0M1096.4 394.3h0M1071.5 394.7h0M1092.7 394.6h0M1076.7 395.0h0M1093.4 394.1h0M1055.3 394.2h0M1099.2 395.5h0M1068.0 395.9h0M1068.3 395.1h0M1088.2 395.5h0M1057.6 395.2h0M1041.5 396.0h0M1046.5 395.6h0M1066.3 395.8h0M1054.2 395.9h0M1054.5 395.9h0M1046.0 395.0h0M1064.2 395.1h0M1062.2 396.0h0M1042.8 395.7h0M1073.3 395.5h0M1075.8 395.1h0M1060.5 395.4h0M1082.5 395.8h0M1047.2 395.1h0M1099.5 396.0h0M1056.7 396.3h0M1047.5 396.9h0M1094.9 396.8h0M1077.5 396.6h0M1077.4 396.0h0M1087.3 396.6h0M1047.6 396.5h0M1080.2 396.2h0M1047.2 396.1h0M1088.8 396.3h0M1062.3 396.5h0M1075.8 397.0h0M1074.9 396.2h0M1063.0 396.9h0M1075.6 396.4h0M1079.3 397.0h0M1075.9 396.2h0M1056.1 397.4h0M1095.2 397.8h0M1055.7 397.9h0M1078.9 397.1h0M1092.5 397.0h0M1061.1 397.7h0M1082.0 397.4h0M1062.8 397.2h0M1081.9 397.8h0M1047.0 397.6h0M1056.2 397.2h0M1079.4 397.0h0M1096.6 397.6h0M1096.2 397.6h0M1072.0 397.5h0M1068.8 397.3h0M1076.8 398.7h0M1071.0 398.7h0M1068.0 398.0h0M1077.1 398.8h0M1048.3 398.0h0M1073.7 398.9h0M1083.4 398.2h0M1093.0 398.9h0M1089.5 398.6h0M1068.7 398.1h0M1061.4 398.8h0M1049.8 399.3h0M1043.5 399.5h0M1079.8 399.7h0M1087.1 399.9h0M1093.2 399.1h0M1097.3 399.5h0M1045.7 399.5h0M1051.2 399.7h0M1073.3 400.0h0M1070.5 399.9h0M1080.8 399.3h0M1093.3 400.5h0M1043.7 400.8h0M1078.3 400.7h0M1080.9 400.5h0M1051.8 400.5h0M1048.5 400.7h0M1092.2 400.3h0M1071.6 400.6h0M1070.5 400.7h0M1074.1 400.4h0M1062.0 400.0h0M1100.9 400.0h0M1080.2 400.9h0M1092.4 400.2h0M1089.4 400.3h0M1070.8 401.5h0M1054.2 401.3h0M1061.3 401.7h0M1095.2 401.9h0M1057.5 402.0h0M1047.1 401.5h0M1045.3 401.4h0M1098.6 401.5h0M1062.7 401.8h0M1097.0 401.3h0M1091.8 401.1h0M1044.9 401.9h0M1079.8 402.0h0M1066.4 401.4h0M1072.6 401.6h0M1094.8 401.9h0M1041.3 401.3h0M1079.9 401.8h0M1045.2 401.7h0M1060.4 402.3h0M1088.0 402.9h0M1100.8 402.3h0M1044.5 402.1h0M1045.4 402.3h0M1062.4 402.9h0M1092.4 402.4h0M1078.8 402.5h0M1068.5 402.4h0M1057.5 403.0h0M1069.7 402.5h0M1049.6 402.1h0M1089.0 402.5h0M1044.3 402.4h0M1049.1 402.9h0M1043.5 402.9h0M1049.6 402.6h0M1066.2 402.3h0M1067.0 402.8h0M1065.1 402.4h0M1057.7 402.5h0M1052.2 403.0h0M1058.4 403.7h0M1074.4 403.5h0M1080.2 403.7h0M1045.9 403.4h0M1049.6 403.1h0M1051.8 403.2h0M1061.3 403.7h0M1054.9 403.9h0M1051.8 403.2h0M1082.0 403.1h0M1055.9 403.6h0M1081.6 403.8h0M1077.5 403.4h0M1067.4 403.7h0M1071.5 404.7h0M1098.9 405.0h0M1097.8 404.9h0M1042.2 404.8h0M1099.7 404.1h0M1077.9 404.9h0M1067.1 404.6h0M1049.6 404.4h0M1057.3 404.5h0M1093.3 404.1h0M1093.7 404.6h0M1075.6 404.3h0M1090.9 404.3h0M1083.5 405.1h0M1047.6 405.5h0M1097.6 405.5h0M1074.4 405.4h0M1071.3 405.4h0M1094.1 405.0h0M1061.7 405.6h0M1052.0 405.3h0M1091.5 405.9h0M1077.2 405.4h0M1052.8 405.6h0M1085.2 405.0h0M1074.9 405.2h0M1042.1 405.0h0M1045.3 406.4h0M1054.0 406.6h0M1051.2 406.7h0M1078.0 406.7h0M1098.2 406.7h0M1082.0 406.3h0M1094.7 406.4h0M1086.9 406.8h0M1056.5 406.6h0M1099.3 406.9h0M1061.2 406.9h0M1081.8 406.8h0M1089.2 406.8h0M1054.3 407.9h0M1086.3 407.1h0M1065.5 407.7h0M1074.2 407.6h0M1071.4 407.9h0M1068.7 407.5h0M1082.4 407.4h0M1082.6 407.1h0M1086.7 407.9h0M1062.1 407.5h0M1046.3 407.1h0M1080.7 408.4h0M1041.5 408.5h0M1058.1 409.0h0M1098.7 408.5h0M1044.6 408.2h0M1050.0 408.2h0M1072.0 408.9h0M1057.2 408.0h0M1051.3 408.5h0M1095.4 408.3h0M1054.8 408.4h0M1047.6 408.6h0M1079.9 408.5h0M1073.9 408.1h0M1085.7 408.3h0M1095.7 408.6h0M1051.8 408.6h0M1083.3 408.2h0M1044.5 408.8h0M1043.0 410.0h0M1052.9 410.0h0M1086.8 409.0h0M1086.2 409.2h0M1048.2 409.0h0M1045.8 409.4h0M1061.7 409.5h0M1070.5 409.7h0M1091.7 410.0h0M1096.2 409.2h0M1074.9 409.9h0M1051.0 409.5h0M1054.0 409.3h0M1077.8 409.2h0M1087.1 409.3h0M1090.7 409.6h0M1091.9 409.1h0M1078.9 409.5h0M1082.8 409.2h0M1056.4 410.5h0M1056.4 410.6h0M1054.7 410.2h0M1062.7 410.9h0M1085.2 410.9h0M1074.2 410.3h0M1097.1 410.0h0M1047.5 410.6h0M1070.7 410.5h0M1058.2 410.7h0M1078.4 410.9h0M1090.2 410.1h0M1059.1 410.9h0M1092.7 410.7h0M1081.0 411.6h0M1067.5 411.0h0M1053.2 412.0h0M1045.4 411.5h0M1090.5 411.3h0M1089.0 411.0h0M1093.2 411.8h0M1097.0 411.3h0M1068.0 411.4h0M1073.6 412.0h0M1047.4 411.7h0M1056.7 411.0h0M1090.5 411.1h0M1098.6 411.2h0M1052.3 411.7h0M1060.0 411.7h0M1045.3 411.5h0M1088.3 411.8h0M1082.5 411.6h0M1048.5 411.3h0M1085.4 411.3h0M1048.9 411.6h0M1069.4 411.2h0M1100.7 412.5h0M1064.1 412.6h0M1056.4 413.0h0M1059.5 413.0h0M1059.8 412.4h0M1094.0 412.7h0M1051.7 412.7h0M1084.4 413.0h0M1051.9 413.3h0M1092.1 413.1h0M1048.4 413.9h0M1095.4 413.4h0M1099.8 413.9h0M1059.1 414.0h0M1055.8 413.1h0M1041.7 413.5h0M1069.3 413.3h0M1050.1 413.7h0M1060.7 413.1h0M1048.1 413.1h0M1089.1 413.1h0M1043.3 413.9h0M1091.7 413.8h0M1058.9 413.7h0M1081.0 414.1h0M1054.7 414.7h0M1053.6 414.5h0M1078.8 414.9h0M1078.3 414.7h0M1094.3 414.1h0M1071.9 414.8h0M1070.5 414.6h0M1072.9 414.8h0M1071.5 415.5h0M1094.0 415.7h0M1088.1 415.5h0M1048.0 415.7h0M1059.7 415.3h0M1070.4 415.4h0M1101.0 415.3h0M1063.2 415.7h0M1096.6 415.7h0M1078.8 415.2h0M1061.3 416.2h0M1069.5 416.2h0M1080.2 416.1h0M1055.7 416.4h0M1060.6 416.7h0M1091.4 416.0h0M1093.8 416.8h0M1056.7 416.3h0M1049.6 416.7h0M1080.2 417.0h0M1043.9 416.5h0M1066.3 416.3h0M1049.5 417.0h0M1045.4 416.6h0M1085.9 417.0h0M1086.0 416.8h0M1088.4 417.9h0M1099.4 417.3h0M1049.2 417.2h0M1089.4 417.4h0M1088.4 417.1h0M1089.0 417.5h0M1083.2 418.9h0M1084.6 418.2h0M1068.9 418.0h0M1086.9 418.3h0M1082.1 418.7h0M1043.3 418.2h0M1082.7 418.6h0M1091.4 418.0h0M1059.6 419.2h0M1094.2 419.7h0M1091.8 419.5h0M1071.9 419.1h0M1087.9 419.7h0M1050.9 419.4h0M1077.6 420.0h0M1061.6 419.7h0M1075.2 419.1h0M1094.5 419.4h0M1086.4 419.7h0M1086.2 419.6h0M1100.9 419.1h0M1041.6 420.8h0M1073.0 420.6h0M1066.1 420.1h0M1093.1 420.7h0M1071.5 420.1h0M1047.8 420.8h0M1097.5 420.9h0M1053.4 420.3h0M1054.0 420.1h0M1083.5 420.4h0M1074.5 420.9h0M1066.5 421.0h0M1048.7 421.0h0M1047.7 421.8h0M1069.7 422.1h0M1101.1 422.4h0M1051.6 422.0h0M1074.0 422.1h0M1087.7 423.0h0M1073.3 422.1h0M1064.9 424.0h0M1086.3 423.5h0M1085.2 423.8h0M1083.7 423.4h0M1078.0 423.2h0M1052.4 423.0h0M1062.0 423.2h0M1042.0 423.7h0M1046.3 423.9h0M1098.1 424.0h0M1077.4 424.5h0M1051.6 424.7h0M1099.3 424.6h0M1090.3 424.3h0M1081.4 425.0h0M1066.0 424.4h0M1048.3 424.5h0M1057.6 424.1h0M1095.1 424.2h0M1093.6 424.4h0M1066.1 425.3h0M1100.1 425.5h0M1062.3 426.0h0M1098.5 426.0h0M1074.8 425.5h0M1088.4 425.2h0M1086.8 425.5h0M1078.4 425.9h0M1073.9 425.7h0M1068.5 425.1h0M1077.4 426.1h0M1053.9 426.2h0M1096.6 426.6h0M1083.9 426.0h0M1070.2 426.6h0M1061.3 428.0h0M1089.7 427.8h0M1070.5 427.8h0M1091.7 427.5h0M1068.1 428.5h0M1097.0 429.0h0M1069.6 429.2h0M1049.1 430.0h0M1088.5 429.3h0M1096.9 429.3h0M1055.1 429.0h0M1092.0 429.3h0M1081.5 429.1h0M1085.2 430.2h0M1048.6 430.6h0M1044.7 430.3h0M1086.3 430.9h0M1098.8 430.5h0M1053.2 431.0h0M1039.1 284.5h0M1038.7 291.0h0M1039.0 275.7h0M1038.8 304.1h0M1038.7 316.9h0M1038.8 288.7h0M1039.2 309.3h0M1039.5 330.1h0M1038.8 302.8h0M1039.1 277.3h0M1038.9 320.0h0M1039.4 278.6h0M1038.8 301.4h0M1038.7 297.8h0M1038.5 326.2h0M1039.2 305.5h0M1038.2 282.6h0M1037.9 286.0h0M1038.5 280.9h0M1038.3 305.7h0M1038.0 301.1h0M1038.5 305.0h0M1038.2 278.1h0M1038.4 281.8h0M1038.1 282.8h0M1038.0 282.6h0M1037.8 326.4h0M1038.2 276.9h0M1037.5 277.7h0M1037.9 319.0h0M1038.0 327.3h0M1038.4 316.8h0M1037.6 327.7h0M1037.7 299.3h0M1038.0 324.7h0M1037.1 290.4h0M1036.6 298.4h0M1036.5 289.1h0M1037.5 327.8h0M1037.4 321.0h0M1036.9 290.0h0M1036.7 298.9h0M1036.5 306.8h0M1036.6 329.7h0M1037.1 315.0h0M1036.8 312.8h0M1035.7 298.0h0M1035.5 317.6h0M1036.1 283.7h0M1036.1 309.8h0M1035.6 327.4h0M1036.2 273.9h0M1035.8 314.8h0M1034.6 317.0h0M1034.9 330.7h0M1034.6 318.6h0M1035.0 275.2h0M1035.3 312.5h0M1035.4 312.1h0M1035.2 296.3h0M1034.7 324.2h0M1034.8 300.0h0M1035.0 333.1h0M1034.6 309.9h0M1035.4 328.0h0M1035.5 279.7h0M1034.8 284.6h0M1034.7 314.7h0M1035.3 328.4h0M1034.5 312.9h0M1033.8 285.6h0M1033.6 279.1h0M1033.9 312.1h0M1034.3 311.1h0M1034.0 310.4h0M1034.3 301.8h0M1033.7 310.5h0M1034.3 293.0h0M1033.6 275.8h0M1034.0 304.1h0M1034.1 272.7h0M1034.4 324.3h0M1034.0 290.4h0M1034.0 275.7h0M1033.4 313.9h0M1033.4 327.8h0M1033.4 275.9h0M1032.5 297.5h0M1032.9 309.2h0M1033.4 293.1h0M1033.1 317.9h0M1032.7 315.2h0M1033.3 300.9h0M1032.6 283.2h0M1033.2 310.4h0M1032.5 274.1h0M1032.8 300.9h0M1031.6 291.8h0M1031.5 308.3h0M1031.5 326.9h0M1031.7 295.3h0M1032.0 308.6h0M1031.7 298.1h0M1031.6 285.8h0M1032.0 281.4h0M1032.3 290.4h0M1032.5 307.5h0M1031.9 296.8h0M1031.7 306.1h0M1031.8 277.7h0M1032.2 273.8h0M1032.3 324.8h0M1032.4 309.2h0M1032.1 313.9h0M1030.6 277.8h0M1031.5 330.4h0M1031.3 322.6h0M1031.1 286.3h0M1031.5 298.9h0M1030.9 275.8h0M1031.5 290.2h0M1030.6 318.6h0M1031.2 297.3h0M1031.1 316.1h0M1031.2 294.3h0M1031.0 287.1h0M1031.1 318.5h0M1031.0 275.9h0M1031.2 307.6h0M1031.3 296.3h0M1030.9 294.9h0M1031.3 326.3h0M1031.4 328.2h0M1031.4 306.6h0M1030.2 315.0h0M1029.6 301.2h0M1029.7 279.2h0M1029.9 292.7h0M1029.8 290.8h0M1030.3 289.1h0M1029.8 316.3h0M1029.6 297.9h0M1030.4 322.2h0M1030.2 316.7h0M1030.0 299.8h0M1030.5 286.5h0M1029.8 300.8h0M1029.6 322.1h0M1030.0 333.0h0M1028.9 289.2h0M1029.1 301.1h0M1029.2 283.0h0M1028.8 311.0h0M1029.4 332.3h0M1028.1 327.1h0M1027.7 302.0h0M1028.4 294.5h0M1027.7 299.2h0M1028.1 311.8h0M1028.5 312.4h0M1027.8 279.4h0M1028.1 325.1h0M1028.2 305.1h0M1028.2 306.5h0M1026.5 307.4h0M1027.2 306.4h0M1026.6 315.2h0M1026.7 307.3h0M1026.9 281.1h0M1026.7 311.9h0M1026.9 291.2h0M1026.7 304.9h0M1027.2 333.5h0M1026.7 314.2h0M1026.7 315.3h0M1027.1 331.3h0M1026.6 313.8h0M1027.1 303.3h0M1027.5 327.2h0M1026.5 323.9h0M1026.0 299.6h0M1026.5 278.8h0M1026.5 327.6h0M1026.5 292.3h0M1026.0 307.8h0M1026.3 312.2h0M1025.9 333.1h0M1026.4 290.7h0M1026.4 290.3h0M1026.3 274.4h0M1025.7 289.4h0M1024.8 323.8h0M1024.8 273.1h0M1025.1 319.6h0M1025.4 303.6h0M1024.8 305.4h0M1025.2 273.5h0M1024.8 282.7h0M1024.9 304.8h0M1024.8 279.4h0M1024.5 318.5h0M1024.6 283.8h0M1024.8 295.8h0M1024.8 315.4h0M1025.1 330.8h0M1024.1 284.8h0M1023.8 317.8h0M1023.8 280.8h0M1024.5 308.3h0M1024.4 316.5h0M1024.0 329.8h0M1023.7 312.8h0M1023.7 303.7h0M1024.2 276.3h0M1023.8 313.4h0M1022.7 287.9h0M1022.5 285.5h0M1023.2 323.5h0M1023.3 317.1h0M1023.2 297.7h0M1023.0 287.7h0M1022.7 330.4h0M1022.6 282.3h0M1023.5 299.6h0M1022.8 306.1h0M1022.5 333.2h0M1022.8 288.6h0M1023.1 276.5h0M1023.1 318.7h0M1021.6 290.8h0M1022.1 332.8h0M1022.2 305.7h0M1021.9 293.1h0M1021.9 298.4h0M1021.7 306.7h0M1021.8 307.7h0M1021.8 296.5h0M1022.4 294.9h0M1022.2 273.4h0M1020.6 303.7h0M1020.5 325.3h0M1021.1 293.6h0M1021.1 319.8h0M1021.0 316.8h0M1020.5 318.6h0M1021.0 318.1h0M1020.2 309.1h0M1019.7 274.5h0M1019.7 304.7h0M1020.3 291.4h0M1019.9 318.1h0M1020.3 276.8h0M1020.3 311.5h0M1020.1 319.4h0M1019.8 295.1h0M1019.9 281.5h0M1019.9 312.3h0M1020.3 313.5h0M1020.4 332.3h0M1019.3 287.5h0M1019.0 281.4h0M1019.3 317.5h0M1019.5 310.1h0M1019.1 316.2h0M1019.2 301.9h0M1019.3 273.5h0M1018.6 295.0h0M1019.2 330.0h0M1019.1 305.8h0M1019.4 297.8h0M1018.6 323.2h0M1018.7 328.8h0M1019.3 275.7h0M1019.4 312.5h0M1019.0 295.2h0M1018.3 281.1h0M1017.8 295.3h0M1017.9 295.1h0M1018.2 282.5h0M1017.7 299.1h0M1018.3 326.2h0M1018.3 286.6h0M1018.3 306.9h0M1017.7 274.4h0M1017.6 315.7h0M1017.1 323.8h0M1017.2 287.6h0M1017.5 305.3h0M1016.9 285.5h0M1017.2 311.4h0M1017.3 320.8h0M1016.6 298.3h0M1017.4 307.6h0M1017.2 279.0h0M1016.8 306.9h0M1015.9 305.8h0M1016.5 279.8h0M1016.1 281.6h0M1016.0 309.0h0M1015.9 326.9h0M1015.9 319.9h0M1016.4 326.2h0M1015.6 308.9h0M1015.7 306.3h0M1015.1 305.8h0M1014.7 286.9h0M1015.5 316.9h0M1015.3 324.9h0M1014.9 280.9h0M1015.0 320.0h0M1015.3 331.3h0M1015.4 281.6h0M1014.9 314.1h0M1014.1 326.8h0M1014.2 315.1h0M1013.9 290.0h0M1013.6 288.2h0M1014.2 284.3h0M1013.8 315.1h0M1013.5 322.9h0M1012.6 277.9h0M1013.3 298.7h0M1012.7 291.5h0M1012.5 278.1h0M1012.6 276.0h0M1012.1 300.1h0M1012.3 289.4h0M1011.6 288.6h0M1011.6 321.9h0M1011.9 291.1h0M1012.5 279.8h0M1011.7 331.5h0M1011.5 289.7h0M1011.6 299.6h0M1012.1 328.4h0M1011.7 314.2h0M1012.2 279.1h0M1012.3 288.7h0M1012.3 307.6h0M1103.1 275.8h0M1102.5 325.9h0M1102.9 300.2h0M1103.4 320.7h0M1102.6 315.9h0M1102.8 301.0h0M1102.7 286.5h0M1102.7 289.3h0M1102.6 326.2h0M1102.8 307.0h0M1103.2 314.2h0M1102.6 331.1h0M1103.3 324.1h0M1102.7 323.6h0M1103.0 274.4h0M1102.8 315.4h0M1102.9 330.8h0M1103.6 287.6h0M1104.2 305.0h0M1103.4 291.4h0M1104.3 289.5h0M1103.7 300.2h0M1104.3 322.3h0M1103.8 313.5h0M1103.4 276.5h0M1103.8 311.5h0M1103.5 275.1h0M1104.3 283.9h0M1103.5 277.8h0M1105.3 285.4h0M1105.0 284.1h0M1104.8 288.8h0M1105.0 320.4h0M1105.2 332.4h0M1104.9 306.3h0M1104.8 290.2h0M1104.9 332.3h0M1104.5 318.5h0M1104.7 309.3h0M1105.8 313.7h0M1105.4 329.8h0M1105.6 331.7h0M1105.8 308.5h0M1106.0 278.0h0M1105.9 318.6h0M1106.2 317.7h0M1106.1 280.4h0M1106.8 286.0h0M1107.0 296.8h0M1107.3 286.8h0M1106.7 328.9h0M1107.1 298.9h0M1106.8 317.6h0M1106.5 316.9h0M1106.6 322.1h0M1106.5 328.7h0M1107.3 274.0h0M1106.6 328.7h0M1107.2 290.5h0M1107.2 308.2h0M1106.6 314.8h0M1108.0 281.0h0M1107.6 280.8h0M1107.9 333.6h0M1108.4 295.1h0M1108.3 314.9h0M1107.5 327.9h0M1107.7 332.7h0M1107.5 327.8h0M1107.9 304.2h0M1107.6 302.5h0M1108.2 306.7h0M1108.4 305.4h0M1108.3 280.7h0M1108.1 309.4h0M1108.3 293.2h0M1107.9 322.5h0M1109.4 314.0h0M1108.6 298.5h0M1109.4 272.6h0M1108.7 281.7h0M1108.6 289.4h0M1109.0 276.6h0M1109.3 299.0h0M1108.6 278.7h0M1108.9 294.0h0M1108.9 279.1h0M1108.8 303.6h0M1108.5 303.3h0M1109.7 279.9h0M1110.3 281.4h0M1110.1 322.1h0M1109.8 308.3h0M1109.7 322.8h0M1110.1 277.3h0M1110.1 281.2h0M1109.9 283.8h0M1110.7 283.0h0M1111.1 279.3h0M1110.9 289.5h0M1110.8 312.7h0M1111.0 310.5h0M1110.5 327.5h0M1111.1 328.3h0M1111.0 312.3h0M1111.3 318.4h0M1111.0 275.0h0M1110.4 316.6h0M1111.2 296.3h0M1110.6 299.6h0M1111.2 319.0h0M1110.5 284.9h0M1110.6 318.3h0M1110.7 327.2h0M1110.8 284.4h0M1110.8 281.1h0M1111.3 273.9h0M1112.2 290.1h0M1111.8 308.0h0M1112.4 287.4h0M1112.2 312.9h0M1112.3 290.9h0M1112.1 327.1h0M1112.3 315.4h0M1112.2 311.5h0M1112.0 284.3h0M1111.9 332.6h0M1112.3 275.1h0M1111.7 287.2h0M1112.2 283.7h0M1112.2 284.6h0M1111.7 332.3h0M1111.5 308.3h0M1111.7 319.0h0M1111.5 314.1h0M1111.7 331.4h0M1112.5 312.4h0M1112.5 287.2h0M1112.4 283.1h0M1113.1 289.0h0M1113.4 289.7h0M1113.2 317.8h0M1113.0 309.7h0M1112.5 323.5h0M1113.3 305.2h0M1112.6 277.8h0M1112.7 332.3h0M1112.7 289.7h0M1112.9 274.6h0M1114.3 309.2h0M1114.0 274.2h0M1113.6 321.2h0M1113.4 284.4h0M1113.5 308.3h0M1113.5 320.7h0M1113.9 320.6h0M1114.3 332.3h0M1113.6 294.9h0M1114.2 292.9h0M1114.3 293.2h0M1114.0 288.2h0M1114.1 289.9h0M1114.8 309.5h0M1114.7 321.4h0M1114.6 299.7h0M1115.1 286.1h0M1115.1 297.1h0M1114.4 279.0h0M1115.1 323.1h0M1115.1 325.6h0M1115.1 320.4h0M1115.2 309.1h0M1114.9 282.4h0M1114.6 277.8h0M1115.6 285.1h0M1115.4 274.1h0M1116.2 325.7h0M1116.3 277.0h0M1115.4 325.2h0M1115.8 293.7h0M1116.1 305.1h0M1115.7 281.7h0M1115.5 316.3h0M1116.3 274.9h0M1115.6 304.8h0M1117.4 290.9h0M1116.9 300.2h0M1117.2 310.6h0M1117.0 304.2h0M1117.3 294.2h0M1116.5 283.3h0M1116.6 278.4h0M1117.4 306.6h0M1117.2 300.4h0M1116.9 286.4h0M1117.3 298.4h0M1116.8 318.2h0M1117.3 333.8h0M1118.2 320.2h0M1118.1 310.0h0M1117.6 303.3h0M1118.2 320.7h0M1118.0 311.3h0M1117.6 275.9h0M1118.2 273.6h0M1117.7 297.1h0M1118.1 315.4h0M1118.3 329.7h0M1117.7 287.8h0M1117.5 292.8h0M1118.5 305.4h0M1118.7 307.7h0M1119.1 286.4h0M1118.5 304.2h0M1118.8 300.0h0M1118.8 282.6h0M1118.5 317.2h0M1119.0 314.8h0M1119.0 304.1h0M1119.7 296.9h0M1120.0 297.6h0M1120.3 282.0h0M1120.3 299.4h0M1120.2 296.8h0M1119.7 327.5h0M1120.0 316.9h0M1119.9 316.2h0M1120.4 318.1h0M1120.4 294.0h0M1119.7 326.8h0M1120.2 327.1h0M1120.4 293.5h0M1120.9 275.8h0M1120.9 328.2h0M1121.1 330.7h0M1121.3 302.9h0M1120.4 276.2h0M1121.0 324.3h0M1120.7 280.6h0M1121.2 305.6h0M1122.2 299.6h0M1121.5 301.7h0M1121.5 273.5h0M1121.5 295.9h0M1121.9 272.5h0M1121.5 328.0h0M1121.9 332.8h0M1121.9 331.2h0M1122.1 296.3h0M1121.5 281.6h0M1123.1 329.6h0M1122.6 287.1h0M1122.5 285.3h0M1122.6 298.2h0M1122.6 313.3h0M1122.6 288.9h0M1122.8 282.9h0M1122.5 278.1h0M1122.4 314.0h0M1122.4 302.0h0M1123.5 285.3h0M1123.7 278.8h0M1124.0 284.8h0M1123.9 315.1h0M1123.9 318.1h0M1124.2 300.0h0M1123.6 275.1h0M1124.6 327.0h0M1124.6 309.3h0M1125.3 301.1h0M1124.8 331.4h0M1125.3 329.5h0M1125.1 286.3h0M1124.4 273.8h0M1125.3 305.9h0M1125.3 331.4h0M1125.6 304.0h0M1126.3 310.2h0M1126.3 284.6h0M1125.9 328.9h0M1126.0 321.3h0M1126.2 299.7h0M1126.1 315.0h0M1125.8 304.5h0M1126.2 326.7h0M1126.4 295.1h0M1126.1 306.4h0M1126.3 287.3h0M1126.5 308.9h0M1127.2 293.7h0M1126.5 308.5h0M1127.0 299.0h0M1126.7 293.8h0M1127.7 278.6h0M1127.6 296.3h0M1128.1 328.8h0M1128.0 281.5h0M1127.8 281.3h0M1127.7 307.8h0M1127.9 283.1h0M1127.7 327.6h0M1128.0 309.5h0M1127.7 290.9h0M1128.4 320.8h0M1128.6 298.5h0M1129.1 314.0h0M1128.7 314.5h0M1129.3 301.3h0M1129.7 330.7h0M1129.7 291.5h0M1130.3 332.9h0M1130.2 294.2h0M1130.2 276.5h0M1129.4 276.4h0M1129.7 287.3h0M1130.3 300.0h0M1130.3 302.5h0M1129.8 293.4h0" stroke="#b4b4b4" stroke-width="3.5" stroke-linecap="round" fill="none"/><path d="M1062.0 197.6h0M1094.2 198.2h0M1074.8 198.4h0M1090.0 198.2h0M1086.7 198.0h0M1081.0 198.3h0M1057.7 197.4h0M1083.1 197.3h0M1047.6 197.1h0M1069.1 197.2h0M1050.9 197.1h0M1041.4 197.4h0M1086.1 196.5h0M1073.6 196.3h0M1096.3 196.5h0M1078.7 195.9h0M1080.2 195.6h0M1055.6 196.2h0M1042.4 196.4h0M1051.9 195.2h0M1060.1 194.7h0M1074.0 195.1h0M1091.0 195.1h0M1043.2 195.3h0M1078.7 194.9h0M1083.4 194.7h0M1097.8 194.6h0M1070.9 195.0h0M1058.8 195.3h0M1067.3 194.5h0M1084.4 194.3h0M1091.5 194.5h0M1088.3 193.6h0M1057.9 194.1h0M1071.8 193.8h0M1074.8 193.1h0M1052.6 193.2h0M1060.3 193.4h0M1099.4 193.0h0M1093.0 192.6h0M1098.8 192.5h0M1089.7 192.9h0M1058.8 191.9h0M1094.2 192.2h0M1052.2 192.5h0M1067.8 191.8h0M1080.6 192.4h0M1075.8 192.1h0M1073.9 190.6h0M1092.8 191.4h0M1046.5 191.2h0M1055.9 191.0h0M1074.2 191.0h0M1045.2 190.1h0M1092.9 190.1h0M1083.9 189.9h0M1047.7 189.7h0M1084.3 189.5h0M1087.6 189.4h0M1055.1 189.4h0M1041.7 189.1h0M1053.6 188.9h0M1083.5 189.2h0M1094.4 189.1h0M1085.3 188.1h0M1084.3 187.6h0M1077.2 188.5h0M1073.9 188.4h0M1047.6 187.7h0M1081.5 187.6h0M1052.4 188.2h0M1091.4 188.1h0M1047.6 187.9h0M1047.4 188.5h0M1051.9 187.7h0M1089.6 186.8h0M1041.6 186.6h0M1049.9 187.2h0M1093.5 187.0h0M1042.9 186.7h0M1090.2 187.3h0M1060.6 186.4h0M1094.7 186.3h0M1043.4 185.9h0M1062.6 186.3h0M1075.6 186.0h0M1062.1 186.1h0M1075.7 186.5h0M1043.5 184.5h0M1081.3 185.4h0M1100.7 183.5h0M1074.6 184.5h0M1093.4 183.7h0M1079.0 183.7h0M1062.7 183.9h0M1065.3 182.9h0M1061.1 183.4h0M1100.5 183.2h0M1062.9 183.0h0M1054.9 183.3h0M1048.9 183.2h0M1093.4 183.5h0M1067.7 183.0h0M1059.0 182.9h0M1044.8 183.3h0M1075.8 182.3h0M1062.3 181.5h0M1066.6 181.7h0M1044.8 181.6h0M1095.1 182.0h0M1056.3 182.2h0M1050.7 182.5h0M1083.3 182.2h0M1098.9 180.8h0M1045.5 180.9h0M1093.6 180.7h0M1049.0 181.2h0M1073.2 181.3h0M1079.4 180.6h0M1065.8 180.4h0M1078.6 180.5h0M1070.6 180.2h0M1056.3 179.9h0M1041.6 180.0h0M1074.8 179.6h0M1044.1 179.5h0M1087.1 179.4h0M1089.9 179.4h0M1073.3 179.1h0M1074.3 178.9h0M1099.8 177.7h0M1057.6 178.0h0M1097.6 178.0h0M1041.3 178.4h0M1080.3 178.0h0M1062.6 177.7h0M1054.5 177.5h0M1046.2 177.7h0M1071.1 177.4h0M1085.3 176.3h0M1050.5 175.6h0M1087.7 176.5h0M1100.1 176.3h0M1044.7 174.8h0M1065.0 174.9h0M1044.4 174.6h0M1065.5 174.9h0M1097.8 174.6h0M1054.3 174.9h0M1056.6 175.2h0M1100.8 174.2h0M1075.1 174.3h0M1092.9 174.3h0M1056.9 173.6h0M1076.8 172.8h0M1075.7 173.0h0M1053.4 172.6h0M1062.5 172.6h0M1092.9 172.7h0M1092.9 173.3h0M1099.6 172.4h0M1095.8 172.5h0M1082.0 171.3h0M1061.3 171.4h0M1082.4 169.7h0M1071.2 170.5h0M1066.8 170.3h0M1042.0 170.4h0M1059.9 169.5h0M1051.6 169.1h0M1049.7 168.8h0M1071.0 168.8h0M1053.7 168.2h0M1094.1 167.5h0M1057.2 167.8h0M1071.5 167.5h0M1074.4 167.1h0M1080.2 165.8h0M1099.5 165.1h0M1064.0 165.1h0M1049.4 165.1h0M1041.1 164.5h0M1096.7 164.9h0M1077.6 165.2h0M1055.3 165.1h0M1088.1 163.7h0M1073.9 162.9h0M1099.4 163.2h0M1085.8 163.5h0M1083.8 162.1h0M1072.5 162.1h0M1081.7 161.9h0M1078.7 162.2h0M1054.2 162.0h0M1056.8 161.9h0M1096.8 161.4h0M1072.4 161.0h0M1089.9 161.0h0M1051.2 161.3h0M1068.6 160.7h0M1091.0 160.1h0M1048.2 159.7h0M1055.9 160.3h0M1062.3 160.4h0M1101.0 159.1h0M1067.9 158.8h0M1089.0 159.0h0M1055.1 158.0h0M1061.3 158.1h0M1041.8 158.1h0M1084.1 157.3h0M1060.3 157.2h0M1092.6 155.9h0M1066.3 156.3h0M1062.9 155.1h0M1058.6 154.8h0M1079.9 155.1h0M1099.4 154.3h0M1063.2 153.8h0M1060.6 153.8h0M1086.4 154.4h0M1068.7 152.9h0M1091.5 153.0h0M1069.4 153.1h0M1067.3 152.6h0M1071.7 153.0h0M1074.2 151.8h0M1087.3 151.7h0M1054.1 152.4h0M1090.1 152.4h0M1074.8 150.7h0M1066.0 148.8h0M1101.0 148.9h0M1093.4 148.7h0M1043.8 431.9h0M1049.2 431.5h0M1066.8 431.7h0M1081.2 431.8h0M1075.8 432.0h0M1099.6 431.6h0M1061.2 431.8h0M1096.4 431.1h0M1068.0 432.7h0M1074.5 432.1h0M1056.6 432.3h0M1078.1 432.9h0M1090.1 432.7h0M1068.0 432.4h0M1062.3 432.4h0M1094.2 432.8h0M1083.7 432.3h0M1087.6 433.7h0M1072.7 434.4h0M1058.5 434.5h0M1078.9 434.1h0M1082.7 434.7h0M1092.6 434.4h0M1048.6 434.0h0M1074.2 434.0h0M1054.5 434.5h0M1041.0 434.5h0M1071.4 435.7h0M1091.5 435.5h0M1097.6 435.6h0M1088.0 436.5h0M1073.3 436.1h0M1084.1 436.6h0M1077.4 436.3h0M1063.8 436.7h0M1095.3 436.7h0M1072.5 436.4h0M1091.4 436.5h0M1058.0 436.3h0M1075.3 437.4h0M1099.9 437.1h0M1068.5 437.6h0M1055.6 437.0h0M1080.0 437.3h0M1070.0 437.2h0M1074.9 437.3h0M1097.3 438.8h0M1092.1 438.4h0M1080.0 438.2h0M1090.6 438.0h0M1068.2 438.4h0M1063.2 438.5h0M1097.0 439.3h0M1058.5 439.3h0M1063.3 439.6h0M1057.9 440.4h0M1094.2 440.7h0M1042.3 440.1h0M1059.5 440.1h0M1048.7 441.6h0M1094.1 441.6h0M1049.2 441.9h0M1095.2 441.2h0M1086.8 441.7h0M1078.1 441.1h0M1040.9 442.3h0M1101.1 442.7h0M1066.6 444.0h0M1059.5 443.4h0M1100.1 443.7h0M1092.4 443.5h0M1066.2 443.4h0M1099.4 443.8h0M1062.2 444.5h0M1100.7 444.0h0M1097.0 444.3h0M1062.5 444.0h0M1081.4 444.8h0M1070.2 444.7h0M1091.0 444.1h0M1085.2 445.7h0M1087.6 445.3h0M1081.4 445.4h0M1095.1 445.4h0M1087.7 445.9h0M1062.0 445.4h0M1096.8 446.5h0M1094.6 446.1h0M1093.7 447.9h0M1053.9 447.7h0M1071.8 447.5h0M1070.3 447.4h0M1100.0 447.5h0M1099.7 447.6h0M1085.4 448.6h0M1081.7 448.3h0M1088.0 448.4h0M1079.6 448.5h0M1072.5 449.9h0M1090.9 449.6h0M1062.9 450.4h0M1065.6 450.3h0M1044.4 450.8h0M1088.5 451.0h0M1079.5 450.6h0M1086.9 450.3h0M1092.2 451.3h0M1067.8 451.6h0M1051.9 451.6h0M1011.5 306.4h0M1011.5 306.8h0M1011.5 301.4h0M1010.9 305.7h0M1010.0 306.0h0M1009.5 293.2h0M1010.5 296.4h0M1009.6 278.4h0M1010.0 309.4h0M1009.7 292.6h0M1009.9 331.1h0M1009.5 307.2h0M1010.2 312.5h0M1009.8 314.3h0M1009.8 296.2h0M1009.2 290.8h0M1009.1 298.1h0M1008.5 304.9h0M1009.0 297.1h0M1009.0 322.6h0M1008.2 275.0h0M1008.1 307.7h0M1008.4 319.0h0M1008.0 310.9h0M1008.1 321.4h0M1007.5 333.1h0M1007.4 288.0h0M1006.6 275.6h0M1007.1 299.1h0M1006.8 320.6h0M1006.5 292.1h0M1006.2 310.6h0M1005.6 278.6h0M1005.3 310.4h0M1005.4 303.4h0M1004.7 272.6h0M1005.2 297.9h0M1004.9 317.7h0M1004.0 313.3h0M1003.9 333.9h0M1004.2 302.9h0M1003.5 322.6h0M1003.9 291.2h0M1004.3 298.1h0M1004.1 299.1h0M1004.2 302.1h0M1003.9 278.8h0M1003.0 314.0h0M1003.1 308.7h0M1002.9 275.2h0M1003.4 303.7h0M1001.7 296.7h0M1002.4 289.5h0M1001.8 319.9h0M1002.1 327.1h0M1002.1 274.0h0M1001.1 302.1h0M1001.5 329.2h0M1001.0 288.7h0M1001.5 307.6h0M999.9 298.1h0M1000.3 276.7h0M999.6 313.5h0M1000.2 301.4h0M999.6 281.4h0M999.9 286.8h0M998.6 302.6h0M998.8 328.3h0M999.1 329.0h0M998.7 290.0h0M999.1 315.0h0M999.3 288.2h0M999.3 279.1h0M998.6 333.9h0M998.7 303.5h0M998.3 293.6h0M998.1 313.0h0M998.3 287.1h0M997.6 320.6h0M997.0 308.7h0M997.5 287.5h0M996.8 313.5h0M997.1 307.6h0M997.0 293.8h0M997.4 318.1h0M995.6 300.3h0M995.7 317.8h0M996.4 308.6h0M996.4 317.5h0M996.2 295.7h0M996.2 322.3h0M995.9 290.9h0M994.8 301.0h0M994.9 307.4h0M995.2 291.3h0M994.7 322.8h0M994.5 314.7h0M995.0 296.8h0M994.5 320.5h0M994.1 296.8h0M994.4 303.0h0M993.6 289.6h0M993.8 319.2h0M992.5 304.2h0M993.1 328.2h0M992.9 293.5h0M992.9 281.9h0M992.0 287.1h0M991.7 309.2h0M992.1 296.1h0M992.3 285.4h0M991.1 300.4h0M990.5 296.2h0M990.3 281.9h0M990.0 311.9h0M990.4 301.8h0M990.3 309.5h0M1131.2 282.0h0M1130.5 285.2h0M1130.5 318.0h0M1131.1 333.3h0M1130.5 315.7h0M1131.2 283.5h0M1132.1 283.0h0M1131.8 281.7h0M1131.5 302.3h0M1131.9 324.6h0M1132.5 306.5h0M1134.4 278.0h0M1134.2 293.7h0M1133.6 312.8h0M1134.3 282.8h0M1133.6 303.3h0M1133.6 303.7h0M1134.4 274.1h0M1135.1 325.3h0M1135.4 293.0h0M1134.6 328.9h0M1135.0 326.8h0M1134.5 321.0h0M1134.5 280.6h0M1135.8 296.0h0M1135.7 272.8h0M1135.7 317.0h0M1136.2 314.7h0M1135.8 297.8h0M1135.6 287.4h0M1137.3 327.3h0M1136.7 300.5h0M1136.6 331.1h0M1136.5 302.1h0M1136.4 300.8h0M1136.9 273.4h0M1136.6 303.2h0M1137.7 278.9h0M1138.0 286.0h0M1137.9 316.2h0M1139.3 315.0h0M1139.2 313.3h0M1140.3 294.5h0M1139.9 321.5h0M1139.6 303.0h0M1139.4 274.7h0M1140.4 286.0h0M1140.9 287.7h0M1141.0 316.0h0M1141.0 308.4h0M1140.7 331.1h0M1140.4 282.7h0M1142.3 291.9h0M1142.3 291.9h0M1142.1 282.2h0M1142.0 291.0h0M1142.4 313.4h0M1141.8 331.7h0M1141.5 318.4h0M1142.0 273.6h0M1141.9 279.7h0M1143.3 307.8h0M1143.0 288.7h0M1142.6 292.5h0M1142.4 284.9h0M1143.9 314.8h0M1143.7 285.2h0M1143.5 294.9h0M1143.8 321.5h0M1144.4 332.3h0M1145.3 291.9h0M1144.7 300.8h0M1146.1 283.1h0M1146.4 321.4h0M1145.8 318.1h0M1145.7 276.4h0M1145.9 277.1h0M1145.9 325.0h0M1146.0 288.9h0M1146.9 300.0h0M1146.8 284.0h0M1146.8 305.9h0M1146.6 292.2h0M1147.9 293.7h0M1147.5 301.7h0M1148.0 294.1h0M1148.1 311.4h0M1148.9 309.7h0M1150.1 296.9h0M1149.9 286.5h0M1151.2 321.9h0M1151.4 330.5h0" stroke="#ababab" stroke-width="3.25" stroke-linecap="round" fill="none"/><path d="M1041.1 148.0h0M1056.2 147.2h0M1074.3 146.6h0M1093.1 146.2h0M1092.5 145.7h0M1073.2 145.4h0M1062.8 143.9h0M1052.8 143.7h0M1072.9 143.2h0M1074.9 143.1h0M1058.4 141.7h0M1044.2 140.6h0M1079.4 141.1h0M1092.9 141.5h0M1076.8 141.4h0M1096.5 141.3h0M1053.5 140.2h0M1049.6 139.7h0M1053.2 139.6h0M1046.5 140.4h0M1082.2 138.6h0M1044.2 139.3h0M1043.3 138.8h0M1058.5 138.7h0M1074.6 138.2h0M1099.9 135.7h0M1042.7 136.1h0M1079.5 136.1h0M1068.8 135.4h0M1048.1 133.7h0M1100.9 133.6h0M1072.5 133.6h0M1070.7 132.7h0M1092.9 132.0h0M1057.1 131.4h0M1091.8 130.6h0M1076.9 130.5h0M1060.9 129.4h0M1055.7 129.1h0M1051.6 128.8h0M1074.5 128.4h0M1071.8 126.5h0M1079.8 126.4h0M1075.7 126.4h0M1050.6 124.8h0M1069.8 122.6h0M1046.4 123.4h0M1073.1 122.0h0M1071.4 120.0h0M1053.0 119.1h0M1070.2 115.6h0M1075.2 115.7h0M1054.6 115.8h0M1042.6 115.2h0M1094.5 114.2h0M1088.1 111.9h0M1076.9 111.3h0M1082.5 109.9h0M1068.6 108.7h0M1065.6 107.6h0M1049.2 104.2h0M1054.0 104.3h0M1087.8 102.0h0M1086.1 101.6h0M1052.8 101.9h0M1084.1 101.4h0M1050.5 101.2h0M1060.4 453.5h0M1085.4 453.3h0M1091.7 454.0h0M1075.8 454.6h0M1073.9 454.7h0M1078.0 456.0h0M1065.6 456.6h0M1090.9 456.6h0M1091.8 456.1h0M1055.9 456.3h0M1051.1 459.9h0M1062.1 460.6h0M1075.8 461.0h0M1081.1 462.0h0M1044.1 464.4h0M1062.0 464.1h0M1080.4 465.5h0M1064.8 465.5h0M1058.9 465.8h0M1081.8 465.4h0M1053.4 466.4h0M1088.4 466.4h0M1087.5 468.6h0M989.1 277.3h0M989.3 310.7h0M988.7 281.0h0M988.1 316.9h0M988.0 299.4h0M987.9 279.6h0M988.0 290.6h0M988.3 304.8h0M986.5 285.7h0M987.5 307.5h0M986.8 296.0h0M987.1 293.6h0M1152.1 298.3h0M1151.7 279.7h0M1065.0 53.0h0M1076.7 56.7h0M1087.4 57.2h0M1059.0 59.5h0M1094.8 62.7h0M1092.0 64.6h0M1067.4 69.0h0M1072.3 67.7h0M1074.8 70.6h0M1073.0 72.5h0M1078.5 73.9h0M1043.0 73.9h0M1064.9 81.8h0M1074.4 81.3h0M1088.3 80.4h0M1066.9 85.0h0M1069.2 86.9h0M1072.5 88.1h0M1062.7 88.1h0M1041.9 88.7h0M1080.7 90.1h0M1090.1 88.7h0M1094.6 91.1h0M1065.5 93.1h0M1066.5 96.5h0M1083.6 96.2h0M1089.7 96.2h0M1073.4 98.5h0M1044.2 99.4h0M822.6 282.3h0M852.6 290.1h0M858.1 280.3h0M859.0 279.7h0M864.4 287.2h0M866.1 284.9h0M865.8 298.6h0M861.2 303.2h0M856.4 312.7h0M861.3 315.3h0M866.9 319.8h0M872.4 293.5h0M878.2 277.5h0M880.4 287.8h0M881.2 293.1h0M886.5 279.2h0M890.2 294.9h0M894.2 275.7h0M903.0 277.7h0M904.5 283.2h0M905.3 287.8h0M900.5 303.2h0M899.9 304.9h0M887.9 316.4h0M878.5 318.9h0M878.7 321.9h0M883.9 326.7h0M881.2 330.4h0M908.7 319.3h0M908.7 334.2h0M909.2 318.9h0M911.5 318.9h0M908.9 333.8h0M922.3 272.0h0M918.3 300.4h0M934.1 307.8h0M933.4 332.2h0M937.2 325.5h0M937.2 328.8h0M942.1 294.9h0M941.0 299.9h0M942.4 326.9h0M946.9 329.9h0M947.9 316.4h0M948.7 280.3h0M950.4 326.7h0M952.7 323.8h0M954.7 325.8h0M954.7 328.4h0M956.1 325.5h0M955.0 293.7h0M958.6 285.7h0M959.0 315.5h0M959.3 331.8h0M963.6 329.6h0M964.1 273.8h0M965.5 278.8h0M964.1 304.4h0M967.6 303.2h0M967.0 315.0h0M969.3 323.3h0M969.3 326.5h0M971.6 279.7h0M973.3 274.6h0M974.7 287.8h0M971.9 318.7h0M974.7 321.5h0M980.7 322.1h0M981.5 307.5h0M982.2 313.2h0M982.4 303.2h0M984.7 303.2h0M987.0 303.2h0M983.4 287.2h0M985.3 292.3h0M984.5 319.2h0M985.3 322.1h0M985.9 274.6h0M986.8 277.7h0M1161.2 277.5h0M1160.9 282.0h0M1157.4 284.3h0M1161.5 287.2h0M1166.0 286.4h0M1167.7 277.5h0M1169.5 276.5h0M1172.3 283.2h0M1156.9 290.6h0M1156.3 292.9h0M1160.9 293.5h0M1163.7 293.3h0M1168.1 290.0h0M1169.7 293.5h0M1172.9 296.3h0M1178.1 291.8h0M1181.5 276.5h0M1185.3 277.1h0M1180.9 282.6h0M1184.6 286.0h0M1182.6 294.4h0M1179.2 299.2h0M1186.1 297.1h0M1190.1 297.1h0M1190.6 299.4h0M1193.5 299.8h0M1168.6 303.2h0M1189.5 303.2h0M1180.3 306.7h0M1192.9 306.1h0M1192.6 308.9h0M1205.5 306.7h0M1202.7 278.6h0M1207.0 291.2h0M1170.4 311.8h0M1155.7 310.1h0M1152.9 311.8h0M1182.6 313.5h0M1192.9 313.5h0M1196.0 313.9h0M1188.9 318.1h0M1194.7 318.1h0M1170.6 322.1h0M1153.4 322.7h0M1155.7 322.1h0M1161.5 326.1h0M1164.9 325.0h0M1166.0 323.8h0M1176.3 326.7h0M1185.5 325.0h0M1184.9 323.8h0M1202.1 321.9h0M1213.0 326.7h0M1152.9 330.1h0M1152.9 331.8h0M1170.4 331.5h0M1186.1 332.6h0M1224.7 332.6h0M1224.4 274.6h0M1228.4 289.8h0M1229.2 294.4h0M1238.2 291.0h0M1238.7 326.7h0M1249.2 275.7h0M1245.2 281.8h0M1244.6 313.0h0M1239.4 326.7h0M1242.6 326.7h0M1261.4 311.6h0M1266.7 315.5h0M1269.2 321.6h0M1272.4 326.7h0M1270.1 299.0h0M1280.1 272.3h0M1280.1 290.3h0M1280.1 303.2h0M1282.7 303.2h0M1285.5 303.2h0M1281.6 306.1h0M1285.5 328.8h0M1294.2 294.9h0M1297.9 321.9h0M1305.6 320.8h0M1307.0 312.0h0M1310.5 303.2h0M1320.5 311.8h0M1322.5 320.1h0M1052.9 470.2h0M1054.5 471.0h0M1068.3 471.0h0M1079.7 474.2h0M1082.1 472.6h0M1083.7 471.0h0M1057.7 474.2h0M1088.6 474.2h0M1058.6 476.7h0M1053.7 479.1h0M1088.6 477.5h0M1078.0 478.3h0M1057.7 482.4h0M1060.2 481.5h0M1064.2 479.9h0M1066.7 479.9h0M1069.9 479.1h0M1069.9 482.4h0M1073.2 484.0h0M1074.8 479.1h0M1041.5 488.0h0M1046.4 488.9h0M1046.4 492.9h0M1079.7 488.5h0M1091.8 485.6h0M1092.7 489.7h0M1073.2 492.9h0M1071.5 497.0h0M1056.9 498.6h0M1061.0 499.4h0M1091.0 499.4h0M1099.2 497.8h0M1100.0 479.1h0M1068.3 505.4h0M1069.1 530.3h0M1081.3 530.3h0M1088.6 527.8h0M1091.0 527.5h0M1059.7 537.9h0M1062.6 544.9h0" stroke="#a2a2a2" stroke-width="3" stroke-linecap="round" fill="none"/></g>
<g fill="#6fa8d6"><circle cx="1001.0" cy="56.4" r="2.8"/><circle cx="1029.2" cy="67.3" r="2.8"/><circle cx="1015.3" cy="93.5" r="2.8"/><circle cx="988.0" cy="127.3" r="2.8"/><circle cx="1024.0" cy="138.1" r="2.8"/><circle cx="989.3" cy="156.8" r="2.8"/><circle cx="952.0" cy="158.7" r="2.8"/><circle cx="830.8" cy="162.0" r="2.8"/><circle cx="891.7" cy="165.1" r="2.8"/><circle cx="952.1" cy="159.0" r="2.8"/><circle cx="921.3" cy="175.2" r="2.8"/><circle cx="927.9" cy="183.3" r="2.8"/><circle cx="876.6" cy="244.1" r="2.8"/><circle cx="1025.1" cy="165.1" r="2.8"/><circle cx="1006.1" cy="172.2" r="2.8"/><circle cx="1020.8" cy="177.5" r="2.8"/><circle cx="1035.1" cy="186.4" r="2.8"/><circle cx="1016.4" cy="192.5" r="2.8"/><circle cx="978.3" cy="195.4" r="2.8"/><circle cx="1029.0" cy="197.4" r="2.8"/><circle cx="973.3" cy="203.2" r="2.8"/><circle cx="999.6" cy="201.2" r="2.8"/><circle cx="1013.5" cy="206.5" r="2.8"/><circle cx="1016.4" cy="205.7" r="2.8"/><circle cx="1020.8" cy="203.8" r="2.8"/><circle cx="1028.4" cy="205.1" r="2.8"/><circle cx="1005.8" cy="210.9" r="2.8"/><circle cx="1020.8" cy="210.3" r="2.8"/><circle cx="1025.5" cy="211.9" r="2.8"/><circle cx="984.1" cy="215.8" r="2.8"/><circle cx="988.0" cy="220.0" r="2.8"/><circle cx="1020.3" cy="217.7" r="2.8"/><circle cx="1003.4" cy="223.1" r="2.8"/><circle cx="988.7" cy="230.3" r="2.8"/><circle cx="1007.7" cy="236.1" r="2.8"/><circle cx="1010.0" cy="239.0" r="2.8"/><circle cx="1027.0" cy="234.1" r="2.8"/><circle cx="1015.8" cy="237.4" r="2.8"/><circle cx="1012.5" cy="240.9" r="2.8"/><circle cx="1015.8" cy="242.4" r="2.8"/><circle cx="1018.3" cy="244.8" r="2.8"/><circle cx="1034.8" cy="241.3" r="2.8"/><circle cx="1000.3" cy="242.8" r="2.8"/><circle cx="1011.2" cy="245.1" r="2.8"/><circle cx="1028.0" cy="244.4" r="2.8"/><circle cx="976.7" cy="249.6" r="2.8"/><circle cx="999.0" cy="249.6" r="2.8"/><circle cx="999.0" cy="253.5" r="2.8"/><circle cx="981.6" cy="256.0" r="2.8"/><circle cx="1029.3" cy="252.5" r="2.8"/><circle cx="1032.8" cy="250.2" r="2.8"/><circle cx="1036.7" cy="251.5" r="2.8"/><circle cx="1015.4" cy="254.4" r="2.8"/><circle cx="1019.3" cy="253.5" r="2.8"/><circle cx="1019.7" cy="257.9" r="2.8"/><circle cx="1025.1" cy="258.3" r="2.8"/><circle cx="1035.7" cy="256.4" r="2.8"/><circle cx="999.6" cy="260.2" r="2.8"/><circle cx="1010.6" cy="264.1" r="2.8"/><circle cx="1018.9" cy="265.6" r="2.8"/><circle cx="1025.5" cy="267.6" r="2.8"/><circle cx="1032.4" cy="266.0" r="2.8"/><circle cx="1036.7" cy="268.0" r="2.8"/><circle cx="988.0" cy="268.9" r="2.8"/><circle cx="1001.5" cy="267.6" r="2.8"/></g>
<g fill="#f08c8c"><circle cx="1167.4" cy="50.8" r="2.8"/><circle cx="1144.0" cy="129.2" r="2.8"/><circle cx="1128.4" cy="135.1" r="2.8"/><circle cx="1125.6" cy="149.6" r="2.8"/><circle cx="1128.2" cy="156.1" r="2.8"/><circle cx="1190.7" cy="151.5" r="2.8"/><circle cx="1105.6" cy="158.9" r="2.8"/><circle cx="1232.9" cy="112.9" r="2.8"/><circle cx="1217.9" cy="124.2" r="2.8"/><circle cx="1152.1" cy="166.8" r="2.8"/><circle cx="1207.9" cy="174.7" r="2.8"/><circle cx="1306.5" cy="129.4" r="2.8"/><circle cx="1151.7" cy="167.0" r="2.8"/><circle cx="1106.2" cy="183.9" r="2.8"/><circle cx="1129.4" cy="184.8" r="2.8"/><circle cx="1114.5" cy="189.1" r="2.8"/><circle cx="1117.8" cy="194.1" r="2.8"/><circle cx="1107.4" cy="198.0" r="2.8"/><circle cx="1111.2" cy="198.8" r="2.8"/><circle cx="1134.4" cy="198.4" r="2.8"/><circle cx="1116.8" cy="203.6" r="2.8"/><circle cx="1179.9" cy="202.3" r="2.8"/><circle cx="1126.1" cy="209.0" r="2.8"/><circle cx="1135.4" cy="211.5" r="2.8"/><circle cx="1131.5" cy="214.8" r="2.8"/><circle cx="1139.7" cy="217.7" r="2.8"/><circle cx="1113.9" cy="219.3" r="2.8"/><circle cx="1228.1" cy="211.4" r="2.8"/><circle cx="1104.8" cy="229.0" r="2.8"/><circle cx="1129.0" cy="231.3" r="2.8"/><circle cx="1170.1" cy="225.9" r="2.8"/><circle cx="1163.9" cy="231.3" r="2.8"/><circle cx="1178.0" cy="235.2" r="2.8"/><circle cx="1239.3" cy="227.8" r="2.8"/><circle cx="1119.7" cy="239.4" r="2.8"/><circle cx="1132.9" cy="241.9" r="2.8"/><circle cx="1128.6" cy="244.3" r="2.8"/><circle cx="1142.6" cy="240.4" r="2.8"/><circle cx="1120.3" cy="250.3" r="2.8"/><circle cx="1123.6" cy="255.5" r="2.8"/><circle cx="1104.8" cy="259.3" r="2.8"/><circle cx="1139.7" cy="256.8" r="2.8"/><circle cx="1154.6" cy="259.3" r="2.8"/><circle cx="1130.0" cy="267.7" r="2.8"/><circle cx="1165.8" cy="267.1" r="2.8"/></g>
<g fill="#5aa83c"><circle cx="992.6" cy="338.6" r="2.8"/><circle cx="995.4" cy="337.9" r="2.8"/><circle cx="1011.4" cy="335.5" r="2.8"/><circle cx="984.3" cy="344.4" r="2.8"/><circle cx="1012.1" cy="343.4" r="2.8"/><circle cx="1005.8" cy="345.8" r="2.8"/><circle cx="1002.4" cy="348.0" r="2.8"/><circle cx="999.3" cy="350.0" r="2.8"/><circle cx="995.7" cy="350.4" r="2.8"/><circle cx="999.3" cy="353.2" r="2.8"/><circle cx="1024.7" cy="336.5" r="2.8"/><circle cx="1028.8" cy="338.6" r="2.8"/><circle cx="1033.0" cy="338.6" r="2.8"/><circle cx="1036.5" cy="339.3" r="2.8"/><circle cx="1030.2" cy="344.1" r="2.8"/><circle cx="1030.9" cy="349.7" r="2.8"/><circle cx="1037.2" cy="351.1" r="2.8"/><circle cx="985.0" cy="355.3" r="2.8"/><circle cx="974.5" cy="359.7" r="2.8"/><circle cx="1005.2" cy="360.2" r="2.8"/><circle cx="1019.1" cy="352.5" r="2.8"/><circle cx="1021.2" cy="351.1" r="2.8"/><circle cx="1018.4" cy="357.4" r="2.8"/><circle cx="1023.3" cy="357.4" r="2.8"/><circle cx="1027.4" cy="355.3" r="2.8"/><circle cx="1031.6" cy="359.5" r="2.8"/><circle cx="1035.1" cy="362.3" r="2.8"/><circle cx="989.1" cy="365.3" r="2.8"/><circle cx="1003.8" cy="366.4" r="2.8"/><circle cx="1007.9" cy="367.8" r="2.8"/><circle cx="1012.1" cy="363.0" r="2.8"/><circle cx="1016.3" cy="366.4" r="2.8"/><circle cx="1020.5" cy="363.6" r="2.8"/><circle cx="1024.7" cy="362.3" r="2.8"/><circle cx="1027.4" cy="366.4" r="2.8"/><circle cx="1030.9" cy="369.2" r="2.8"/><circle cx="1034.4" cy="372.0" r="2.8"/><circle cx="981.5" cy="371.7" r="2.8"/><circle cx="996.8" cy="370.3" r="2.8"/><circle cx="989.8" cy="376.5" r="2.8"/><circle cx="992.6" cy="375.5" r="2.8"/><circle cx="1002.4" cy="379.3" r="2.8"/><circle cx="1010.7" cy="376.2" r="2.8"/><circle cx="1015.6" cy="375.5" r="2.8"/><circle cx="1019.8" cy="376.9" r="2.8"/><circle cx="1024.7" cy="373.4" r="2.8"/><circle cx="1030.2" cy="374.8" r="2.8"/><circle cx="1037.2" cy="377.6" r="2.8"/><circle cx="1007.9" cy="381.1" r="2.8"/><circle cx="1012.8" cy="384.5" r="2.8"/><circle cx="999.6" cy="385.9" r="2.8"/><circle cx="1003.8" cy="388.0" r="2.8"/><circle cx="1001.0" cy="390.1" r="2.8"/><circle cx="1004.5" cy="392.2" r="2.8"/><circle cx="1023.3" cy="385.9" r="2.8"/><circle cx="1023.3" cy="388.7" r="2.8"/><circle cx="1028.1" cy="382.5" r="2.8"/><circle cx="1033.0" cy="388.7" r="2.8"/><circle cx="1037.2" cy="385.2" r="2.8"/><circle cx="1028.8" cy="393.6" r="2.8"/><circle cx="964.1" cy="394.6" r="2.8"/><circle cx="980.1" cy="401.0" r="2.8"/><circle cx="994.7" cy="405.4" r="2.8"/><circle cx="986.3" cy="409.9" r="2.8"/><circle cx="1035.8" cy="404.7" r="2.8"/><circle cx="1026.1" cy="412.1" r="2.8"/><circle cx="1004.5" cy="415.9" r="2.8"/><circle cx="1000.3" cy="419.4" r="2.8"/><circle cx="1007.2" cy="421.5" r="2.8"/><circle cx="1018.4" cy="416.9" r="2.8"/><circle cx="1031.6" cy="418.0" r="2.8"/><circle cx="1026.7" cy="421.9" r="2.8"/><circle cx="986.5" cy="410.5" r="2.8"/><circle cx="1004.6" cy="415.1" r="2.8"/><circle cx="1000.4" cy="419.7" r="2.8"/><circle cx="1007.4" cy="422.1" r="2.8"/><circle cx="1018.1" cy="417.0" r="2.8"/><circle cx="1026.7" cy="412.3" r="2.8"/><circle cx="1031.3" cy="418.8" r="2.8"/><circle cx="1033.6" cy="420.4" r="2.8"/><circle cx="1026.7" cy="422.8" r="2.8"/><circle cx="1027.4" cy="425.8" r="2.8"/><circle cx="990.7" cy="433.7" r="2.8"/><circle cx="1023.2" cy="435.5" r="2.8"/><circle cx="1021.3" cy="439.7" r="2.8"/><circle cx="1034.8" cy="441.3" r="2.8"/><circle cx="971.0" cy="430.4" r="2.8"/><circle cx="955.9" cy="454.6" r="2.8"/><circle cx="978.6" cy="465.7" r="2.8"/><circle cx="978.6" cy="473.1" r="2.8"/><circle cx="1019.7" cy="469.9" r="2.8"/><circle cx="1038.3" cy="459.2" r="2.8"/><circle cx="963.6" cy="394.8" r="2.8"/><circle cx="847.4" cy="426.9" r="2.8"/><circle cx="956.1" cy="454.7" r="2.8"/><circle cx="916.9" cy="545.5" r="2.8"/><circle cx="908.7" cy="443.9" r="2.8"/><circle cx="980.0" cy="401.1" r="2.8"/><circle cx="985.8" cy="409.7" r="2.8"/><circle cx="994.7" cy="405.8" r="2.8"/><circle cx="998.6" cy="419.7" r="2.8"/><circle cx="990.9" cy="433.7" r="2.8"/><circle cx="971.4" cy="430.7" r="2.8"/><circle cx="956.1" cy="454.6" r="2.8"/><circle cx="978.4" cy="465.5" r="2.8"/><circle cx="1024.3" cy="367.1" r="2.8"/><circle cx="1036.1" cy="362.2" r="2.8"/><circle cx="1025.7" cy="368.5" r="2.8"/><circle cx="1017.6" cy="364.6" r="2.8"/><circle cx="1028.7" cy="379.2" r="2.8"/><circle cx="1015.4" cy="353.8" r="2.8"/><circle cx="1015.3" cy="380.1" r="2.8"/><circle cx="1030.3" cy="340.2" r="2.8"/><circle cx="1037.6" cy="388.2" r="2.8"/><circle cx="1029.3" cy="370.0" r="2.8"/><circle cx="1016.9" cy="338.8" r="2.8"/><circle cx="1026.2" cy="341.1" r="2.8"/><circle cx="1017.8" cy="350.6" r="2.8"/><circle cx="1013.8" cy="362.1" r="2.8"/><circle cx="1024.0" cy="381.8" r="2.8"/><circle cx="1026.0" cy="371.3" r="2.8"/><circle cx="1025.5" cy="372.4" r="2.8"/><circle cx="1024.4" cy="352.5" r="2.8"/><circle cx="1037.9" cy="389.8" r="2.8"/><circle cx="1034.0" cy="374.8" r="2.8"/><circle cx="1020.9" cy="349.9" r="2.8"/><circle cx="1020.2" cy="341.7" r="2.8"/><circle cx="1032.2" cy="358.8" r="2.8"/><circle cx="1034.2" cy="358.1" r="2.8"/><circle cx="1037.0" cy="382.1" r="2.8"/><circle cx="1035.8" cy="362.4" r="2.8"/><circle cx="1037.5" cy="358.7" r="2.8"/><circle cx="1014.8" cy="370.7" r="2.8"/><circle cx="1032.5" cy="352.0" r="2.8"/></g>
<g fill="#f5821f"><circle cx="1116.0" cy="335.8" r="2.8"/><circle cx="1125.1" cy="338.6" r="2.8"/><circle cx="1137.3" cy="338.9" r="2.8"/><circle cx="1177.3" cy="336.1" r="2.8"/><circle cx="1113.2" cy="343.0" r="2.8"/><circle cx="1168.3" cy="346.9" r="2.8"/><circle cx="1182.2" cy="350.8" r="2.8"/><circle cx="1152.9" cy="352.2" r="2.8"/><circle cx="1105.6" cy="350.4" r="2.8"/><circle cx="1110.4" cy="351.8" r="2.8"/><circle cx="1116.0" cy="351.1" r="2.8"/><circle cx="1120.2" cy="347.6" r="2.8"/><circle cx="1125.8" cy="351.8" r="2.8"/><circle cx="1120.9" cy="354.6" r="2.8"/><circle cx="1112.5" cy="356.0" r="2.8"/><circle cx="1108.4" cy="355.3" r="2.8"/><circle cx="1127.9" cy="356.7" r="2.8"/><circle cx="1128.6" cy="360.2" r="2.8"/><circle cx="1105.6" cy="359.5" r="2.8"/><circle cx="1106.3" cy="363.6" r="2.8"/><circle cx="1107.0" cy="367.1" r="2.8"/><circle cx="1113.9" cy="362.3" r="2.8"/><circle cx="1118.8" cy="362.5" r="2.8"/><circle cx="1125.8" cy="364.3" r="2.8"/><circle cx="1143.5" cy="358.8" r="2.8"/><circle cx="1175.2" cy="367.1" r="2.8"/><circle cx="1118.8" cy="372.0" r="2.8"/><circle cx="1120.9" cy="374.8" r="2.8"/><circle cx="1123.0" cy="375.5" r="2.8"/><circle cx="1132.3" cy="376.2" r="2.8"/><circle cx="1155.4" cy="377.6" r="2.8"/><circle cx="1155.4" cy="383.2" r="2.8"/><circle cx="1105.9" cy="391.5" r="2.8"/><circle cx="1125.1" cy="388.7" r="2.8"/><circle cx="1124.4" cy="390.1" r="2.8"/><circle cx="1129.3" cy="396.4" r="2.8"/><circle cx="1131.3" cy="399.9" r="2.8"/><circle cx="1134.8" cy="400.6" r="2.8"/><circle cx="1164.1" cy="399.6" r="2.8"/><circle cx="1110.9" cy="408.0" r="2.8"/><circle cx="1117.4" cy="405.4" r="2.8"/><circle cx="1104.0" cy="431.2" r="2.8"/><circle cx="1128.6" cy="427.2" r="2.8"/><circle cx="1108.4" cy="441.8" r="2.8"/><circle cx="1137.8" cy="440.6" r="2.8"/><circle cx="1105.6" cy="466.0" r="2.8"/><circle cx="1150.3" cy="474.4" r="2.8"/><circle cx="1153.9" cy="470.4" r="2.8"/><circle cx="1112.5" cy="507.0" r="2.8"/><circle cx="1168.5" cy="346.7" r="2.8"/><circle cx="1182.4" cy="350.6" r="2.8"/><circle cx="1274.9" cy="362.2" r="2.8"/><circle cx="1289.7" cy="358.6" r="2.8"/><circle cx="1164.3" cy="399.4" r="2.8"/><circle cx="1197.2" cy="405.9" r="2.8"/><circle cx="1272.7" cy="416.7" r="2.8"/><circle cx="1270.2" cy="423.2" r="2.8"/><circle cx="1300.1" cy="424.7" r="2.8"/><circle cx="1321.3" cy="421.6" r="2.8"/><circle cx="1170.8" cy="427.2" r="2.8"/><circle cx="1155.4" cy="383.0" r="2.8"/><circle cx="1124.5" cy="388.7" r="2.8"/><circle cx="1129.9" cy="396.8" r="2.8"/><circle cx="1134.4" cy="400.3" r="2.8"/><circle cx="1164.6" cy="399.3" r="2.8"/><circle cx="1197.2" cy="406.0" r="2.8"/><circle cx="1128.7" cy="427.0" r="2.8"/><circle cx="1171.2" cy="427.0" r="2.8"/><circle cx="1196.2" cy="430.7" r="2.8"/><circle cx="1137.8" cy="440.1" r="2.8"/><circle cx="1183.1" cy="470.3" r="2.8"/><circle cx="1149.7" cy="474.0" r="2.8"/><circle cx="1154.7" cy="470.3" r="2.8"/><circle cx="1204.9" cy="503.3" r="2.8"/><circle cx="1106.9" cy="354.0" r="2.8"/><circle cx="1126.2" cy="361.6" r="2.8"/><circle cx="1107.6" cy="352.4" r="2.8"/><circle cx="1107.2" cy="349.1" r="2.8"/><circle cx="1122.5" cy="351.2" r="2.8"/><circle cx="1117.3" cy="356.1" r="2.8"/><circle cx="1109.2" cy="361.2" r="2.8"/><circle cx="1107.9" cy="359.6" r="2.8"/><circle cx="1107.6" cy="355.6" r="2.8"/></g>
<line x1="794.5" y1="271.5" x2="1347.4" y2="271.5" stroke="#111" stroke-width="2.3" stroke-dasharray="8.4 8.4"/>
<line x1="794.5" y1="335.0" x2="1347.4" y2="335.0" stroke="#111" stroke-width="2.3" stroke-dasharray="8.4 8.4"/>
<line x1="1039.5" y1="582.3" x2="1039.5" y2="24.5" stroke="#111" stroke-width="2.3" stroke-dasharray="8.4 8.4"/>
<line x1="1102.4" y1="582.3" x2="1102.4" y2="24.5" stroke="#111" stroke-width="2.3" stroke-dasharray="8.4 8.4"/>
<g fill="none" stroke="#6fa8d6" stroke-width="3"><ellipse cx="868.3" cy="134.8" rx="43.3" ry="38.2"/><ellipse cx="924.6" cy="134.8" rx="43.3" ry="38.2"/></g><text x="855.2" y="140.4" font-size="18.5" text-anchor="middle">115</text><text x="895.1" y="140.4" font-size="18.5" text-anchor="middle">68</text><text x="937" y="140.4" font-size="18.5" text-anchor="middle">184</text>
<g fill="none" stroke="#f08c8c" stroke-width="3"><ellipse cx="1202.6" cy="133.9" rx="45.8" ry="39.3"/><ellipse cx="1262.2" cy="133.9" rx="45.8" ry="39.3"/></g><text x="1186.5" y="140.5" font-size="19.5" text-anchor="middle">115</text><text x="1234.4" y="140.5" font-size="19.5" text-anchor="middle">47</text><text x="1276.5" y="140.5" font-size="19.5" text-anchor="middle">116</text>
<g fill="none" stroke="#5aa83c" stroke-width="3"><ellipse cx="869.1" cy="439.4" rx="44.5" ry="38.6"/><ellipse cx="926.5" cy="439.4" rx="44.5" ry="38.6"/></g><text x="855.4" y="448.1" font-size="20" text-anchor="middle">185</text><text x="898.7" y="448.1" font-size="20" text-anchor="middle">116</text><text x="938.2" y="448.1" font-size="20" text-anchor="middle">184</text>
<g fill="none" stroke="#f5821f" stroke-width="3"><ellipse cx="1194.9" cy="445.1" rx="47.5" ry="41.8"/><ellipse cx="1256.1" cy="445.1" rx="47.5" ry="41.8"/></g><text x="1182.3" y="454.3" font-size="21.5" text-anchor="middle">185</text><text x="1227.1" y="454.3" font-size="21.5" text-anchor="middle">69</text><text x="1274.7" y="454.3" font-size="21.5" text-anchor="middle">116</text>
<text transform="translate(808.6,65.3) scale(1,1.04)" font-size="27.9">Hyper-down</text>
<text transform="translate(1224.5,65.5) scale(1,1.04)" font-size="28.2">Hyper-up</text>
<text transform="translate(808.7,526.6) scale(1,1.04)" font-size="28">Hypo-down</text>
<text transform="translate(1224.7,526) scale(1,1.04)" font-size="28.2">Hypo-up</text>
<rect x="794.5" y="24.5" width="552.9000000000001" height="557.8" fill="none" stroke="#444" stroke-width="1.5"/>
<line x1="788.8" y1="461.4" x2="794.5" y2="461.4" stroke="#444" stroke-width="2"/>
<text transform="translate(789.5,469.9) scale(1,1.04)" font-size="28" text-anchor="end">−5</text>
<line x1="913.3" y1="582.3" x2="913.3" y2="587.3" stroke="#444" stroke-width="2"/>
<text transform="translate(911.8,612.6) scale(1,1.04)" font-size="28" text-anchor="middle">−5</text>
<line x1="788.8" y1="303.1" x2="794.5" y2="303.1" stroke="#444" stroke-width="2"/>
<text transform="translate(787.5,313.1) scale(1,1.04)" font-size="28" text-anchor="end">0</text>
<line x1="1070.6" y1="582.3" x2="1070.6" y2="587.3" stroke="#444" stroke-width="2"/>
<text transform="translate(1072.6,612.6) scale(1,1.04)" font-size="28" text-anchor="middle">0</text>
<line x1="788.8" y1="144.9" x2="794.5" y2="144.9" stroke="#444" stroke-width="2"/>
<text transform="translate(787.5,151.9) scale(1,1.04)" font-size="28" text-anchor="end">5</text>
<line x1="1227.8" y1="582.3" x2="1227.8" y2="587.3" stroke="#444" stroke-width="2"/>
<text transform="translate(1229.8,612.6) scale(1,1.04)" font-size="28" text-anchor="middle">5</text>
<text transform="translate(837.5,638.6) scale(1,1.04)" font-size="28.2">Log2FC Tumor/NATs (Gene Expression)</text>
<text transform="translate(745.5,497.2) rotate(-90) scale(1,1.04)" font-size="28.45">Log2FC Tumor/NATs (m<tspan font-size="11.2" dy="-11.5">6</tspan><tspan dy="11.5">A level)</tspan></text>
</svg></body></html>
